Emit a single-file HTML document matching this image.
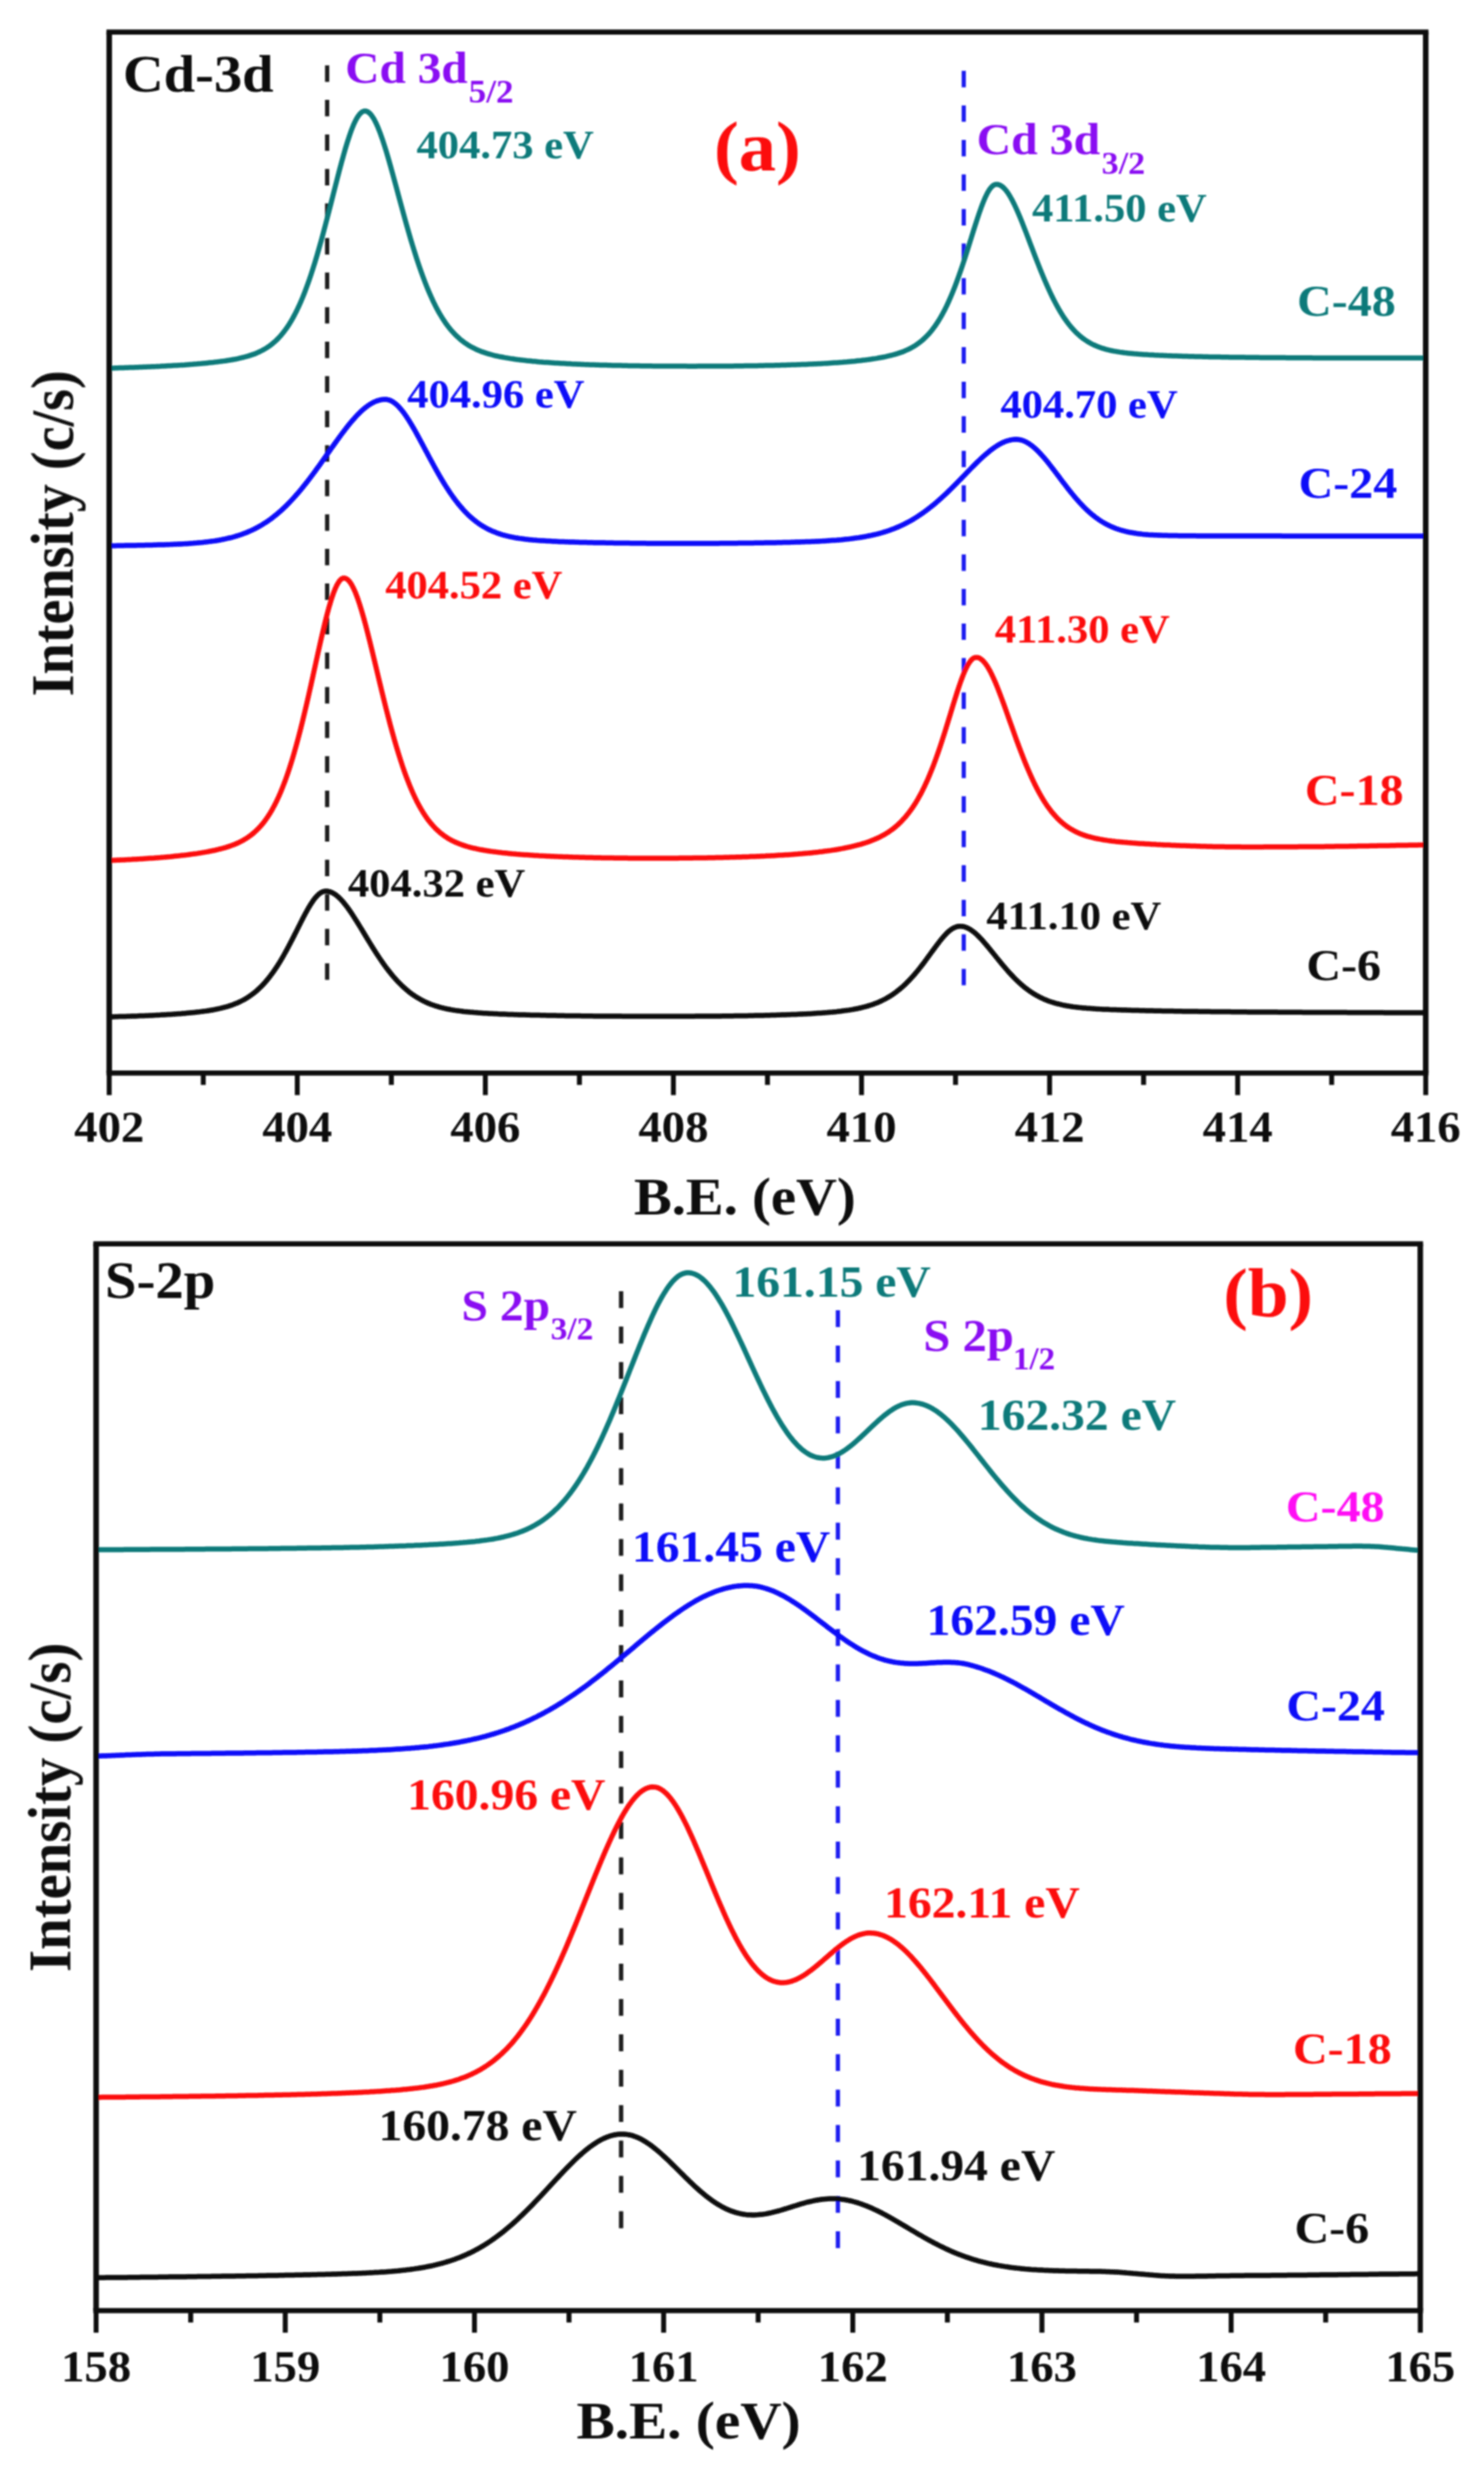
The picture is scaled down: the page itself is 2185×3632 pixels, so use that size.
<!DOCTYPE html>
<html lang="en"><head><meta charset="utf-8"><title>XPS spectra</title>
<style>html,body{margin:0;padding:0;background:#fff}svg{display:block}</style>
</head><body>
<svg width="2185" height="3632" viewBox="0 0 2185 3632" font-family="'Liberation Serif', serif" font-weight="bold">
<defs><filter id="bl" x="-2%" y="-2%" width="104%" height="104%"><feGaussianBlur stdDeviation="0.8"/></filter></defs>
<rect width="2185" height="3632" fill="#fff"/>
<g filter="url(#bl)">
<path d="M481.7,96.2V1444.3" stroke="#1a1a1a" stroke-width="6.2" stroke-dasharray="24.2 26.65" fill="none"/>
<path d="M1419,104.3V1451" stroke="#1c1cf0" stroke-width="6.2" stroke-dasharray="24.2 26.65" fill="none"/>
<path d="M160.8,542.1 L163.8,542.0 L166.8,541.9 L169.8,541.8 L172.8,541.7 L175.8,541.6 L178.8,541.5 L181.8,541.4 L184.8,541.3 L187.8,541.2 L190.8,541.1 L193.8,541.0 L196.8,540.9 L199.8,540.8 L202.8,540.7 L205.8,540.6 L208.8,540.5 L211.8,540.3 L214.8,540.2 L217.8,540.1 L220.8,540.0 L223.8,539.8 L226.8,539.7 L229.8,539.6 L232.8,539.4 L235.8,539.3 L238.8,539.1 L241.8,539.0 L244.8,538.8 L247.8,538.6 L250.8,538.5 L253.8,538.3 L256.8,538.1 L259.8,537.9 L262.8,537.7 L265.8,537.6 L268.8,537.4 L271.8,537.2 L274.8,536.9 L277.8,536.7 L280.8,536.5 L283.8,536.3 L286.8,536.0 L289.8,535.8 L292.8,535.5 L295.8,535.3 L298.8,535.0 L301.8,534.7 L304.8,534.4 L307.8,534.1 L310.8,533.8 L313.8,533.5 L316.8,533.1 L319.8,532.8 L322.8,532.4 L325.8,532.0 L328.8,531.6 L331.8,531.2 L334.8,530.7 L337.8,530.3 L340.8,529.8 L343.8,529.2 L346.8,528.7 L349.8,528.1 L352.8,527.4 L355.8,526.7 L358.8,526.0 L361.8,525.2 L364.8,524.4 L367.8,523.4 L370.8,522.4 L373.8,521.4 L376.8,520.2 L379.8,518.9 L382.8,517.5 L385.8,516.0 L388.8,514.4 L391.8,512.6 L394.8,510.7 L397.8,508.6 L400.8,506.2 L403.8,503.7 L406.8,501.0 L409.8,498.0 L412.8,494.8 L415.8,491.2 L418.8,487.4 L421.8,483.3 L424.8,478.9 L427.8,474.1 L430.8,468.9 L433.8,463.4 L436.8,457.5 L439.8,451.2 L442.8,444.5 L445.8,437.4 L448.8,429.8 L451.8,421.8 L454.8,413.4 L457.8,404.6 L460.8,395.4 L463.8,385.8 L466.8,375.8 L469.8,365.4 L472.8,354.7 L475.8,343.7 L478.8,332.4 L481.8,320.9 L484.8,309.3 L487.8,297.5 L490.8,285.6 L493.8,273.8 L496.8,262.1 L499.8,250.5 L502.8,239.3 L505.8,228.4 L508.8,217.9 L511.8,208.1 L514.8,199.0 L517.8,190.6 L520.8,183.2 L523.8,176.9 L526.8,171.7 L529.8,167.7 L532.8,164.9 L535.8,163.6 L538.8,163.5 L541.8,164.8 L544.8,167.2 L547.8,170.9 L550.8,175.6 L553.8,181.5 L556.8,188.3 L559.8,196.0 L562.8,204.4 L565.8,213.6 L568.8,223.2 L571.8,233.4 L574.8,243.9 L577.8,254.7 L580.8,265.7 L583.8,276.8 L586.8,288.0 L589.8,299.1 L592.8,310.1 L595.8,321.0 L598.8,331.8 L601.8,342.3 L604.8,352.6 L607.8,362.5 L610.8,372.2 L613.8,381.6 L616.8,390.6 L619.8,399.3 L622.8,407.6 L625.8,415.5 L628.8,423.1 L631.8,430.3 L634.8,437.1 L637.8,443.6 L640.8,449.7 L643.8,455.4 L646.8,460.9 L649.8,465.9 L652.8,470.7 L655.8,475.2 L658.8,479.3 L661.8,483.2 L664.8,486.8 L667.8,490.1 L670.8,493.3 L673.8,496.1 L676.8,498.8 L679.8,501.3 L682.8,503.6 L685.8,505.7 L688.8,507.7 L691.8,509.5 L694.8,511.2 L697.8,512.7 L700.8,514.2 L703.8,515.5 L706.8,516.7 L709.8,517.9 L712.8,518.9 L715.8,519.9 L718.8,520.8 L721.8,521.7 L724.8,522.5 L727.8,523.3 L730.8,524.0 L733.8,524.6 L736.8,525.3 L739.8,525.8 L742.8,526.4 L745.8,526.9 L748.8,527.4 L751.8,527.9 L754.8,528.3 L757.8,528.8 L760.8,529.2 L763.8,529.6 L766.8,529.9 L769.8,530.3 L772.8,530.6 L775.8,531.0 L778.8,531.3 L781.8,531.6 L784.8,531.9 L787.8,532.1 L790.8,532.4 L793.8,532.7 L796.8,532.9 L799.8,533.2 L802.8,533.4 L805.8,533.6 L808.8,533.8 L811.8,534.0 L814.8,534.2 L817.8,534.4 L820.8,534.6 L823.8,534.8 L826.8,535.0 L829.8,535.1 L832.8,535.3 L835.8,535.5 L838.8,535.6 L841.8,535.8 L844.8,535.9 L847.8,536.0 L850.8,536.2 L853.8,536.3 L856.8,536.4 L859.8,536.6 L862.8,536.7 L865.8,536.8 L868.8,536.9 L871.8,537.0 L874.8,537.1 L877.8,537.2 L880.8,537.3 L883.8,537.4 L886.8,537.5 L889.8,537.6 L892.8,537.6 L895.8,537.7 L898.8,537.8 L901.8,537.9 L904.8,537.9 L907.8,538.0 L910.8,538.1 L913.8,538.1 L916.8,538.2 L919.8,538.3 L922.8,538.3 L925.8,538.4 L928.8,538.4 L931.8,538.5 L934.8,538.5 L937.8,538.6 L940.8,538.6 L943.8,538.7 L946.8,538.7 L949.8,538.7 L952.8,538.8 L955.8,538.8 L958.8,538.8 L961.8,538.9 L964.8,538.9 L967.8,538.9 L970.8,539.0 L973.8,539.0 L976.8,539.0 L979.8,539.0 L982.8,539.0 L985.8,539.1 L988.8,539.1 L991.8,539.1 L994.8,539.1 L997.8,539.1 L1000.8,539.1 L1003.8,539.1 L1006.8,539.1 L1009.8,539.1 L1012.8,539.2 L1015.8,539.2 L1018.8,539.2 L1021.8,539.2 L1024.8,539.2 L1027.8,539.1 L1030.8,539.1 L1033.8,539.1 L1036.8,539.1 L1039.8,539.1 L1042.8,539.1 L1045.8,539.1 L1048.8,539.1 L1051.8,539.1 L1054.8,539.1 L1057.8,539.0 L1060.8,539.0 L1063.8,539.0 L1066.8,539.0 L1069.8,538.9 L1072.8,538.9 L1075.8,538.9 L1078.8,538.9 L1081.8,538.8 L1084.8,538.8 L1087.8,538.8 L1090.8,538.7 L1093.8,538.7 L1096.8,538.6 L1099.8,538.6 L1102.8,538.6 L1105.8,538.5 L1108.8,538.5 L1111.8,538.4 L1114.8,538.4 L1117.8,538.3 L1120.8,538.3 L1123.8,538.2 L1126.8,538.1 L1129.8,538.1 L1132.8,538.0 L1135.8,537.9 L1138.8,537.9 L1141.8,537.8 L1144.8,537.7 L1147.8,537.7 L1150.8,537.6 L1153.8,537.5 L1156.8,537.4 L1159.8,537.3 L1162.8,537.2 L1165.8,537.1 L1168.8,537.0 L1171.8,536.9 L1174.8,536.8 L1177.8,536.7 L1180.8,536.6 L1183.8,536.5 L1186.8,536.4 L1189.8,536.2 L1192.8,536.1 L1195.8,536.0 L1198.8,535.8 L1201.8,535.7 L1204.8,535.5 L1207.8,535.4 L1210.8,535.2 L1213.8,535.1 L1216.8,534.9 L1219.8,534.7 L1222.8,534.5 L1225.8,534.3 L1228.8,534.1 L1231.8,533.9 L1234.8,533.7 L1237.8,533.5 L1240.8,533.3 L1243.8,533.0 L1246.8,532.8 L1249.8,532.5 L1252.8,532.2 L1255.8,531.9 L1258.8,531.7 L1261.8,531.3 L1264.8,531.0 L1267.8,530.7 L1270.8,530.3 L1273.8,530.0 L1276.8,529.6 L1279.8,529.2 L1282.8,528.8 L1285.8,528.3 L1288.8,527.9 L1291.8,527.4 L1294.8,526.8 L1297.8,526.3 L1300.8,525.7 L1303.8,525.1 L1306.8,524.4 L1309.8,523.7 L1312.8,523.0 L1315.8,522.2 L1318.8,521.3 L1321.8,520.4 L1324.8,519.4 L1327.8,518.4 L1330.8,517.2 L1333.8,515.9 L1336.8,514.6 L1339.8,513.1 L1342.8,511.5 L1345.8,509.8 L1348.8,507.9 L1351.8,505.8 L1354.8,503.5 L1357.8,501.1 L1360.8,498.4 L1363.8,495.5 L1366.8,492.4 L1369.8,489.0 L1372.8,485.3 L1375.8,481.3 L1378.8,477.0 L1381.8,472.4 L1384.8,467.4 L1387.8,462.1 L1390.8,456.4 L1393.8,450.4 L1396.8,443.9 L1399.8,437.1 L1402.8,429.9 L1405.8,422.3 L1408.8,414.4 L1411.8,406.1 L1414.8,397.5 L1417.8,388.6 L1420.8,379.5 L1423.8,370.1 L1426.8,360.6 L1429.8,351.0 L1432.8,341.4 L1435.8,331.9 L1438.8,322.6 L1441.8,313.6 L1444.8,305.2 L1447.8,297.4 L1450.8,290.3 L1453.8,284.2 L1456.8,279.1 L1459.8,275.3 L1462.8,272.7 L1465.8,271.4 L1468.8,271.4 L1471.8,272.3 L1474.8,274.0 L1477.8,276.5 L1480.8,279.8 L1483.8,283.8 L1486.8,288.5 L1489.8,293.8 L1492.8,299.7 L1495.8,306.0 L1498.8,312.7 L1501.8,319.8 L1504.8,327.2 L1507.8,334.8 L1510.8,342.5 L1513.8,350.4 L1516.8,358.3 L1519.8,366.2 L1522.8,374.1 L1525.8,381.8 L1528.8,389.5 L1531.8,397.1 L1534.8,404.4 L1537.8,411.6 L1540.8,418.6 L1543.8,425.3 L1546.8,431.8 L1549.8,438.0 L1552.8,443.9 L1555.8,449.5 L1558.8,454.9 L1561.8,460.0 L1564.8,464.8 L1567.8,469.3 L1570.8,473.5 L1573.8,477.5 L1576.8,481.2 L1579.8,484.6 L1582.8,487.8 L1585.8,490.8 L1588.8,493.5 L1591.8,496.1 L1594.8,498.4 L1597.8,500.5 L1600.8,502.5 L1603.8,504.3 L1606.8,506.0 L1609.8,507.5 L1612.8,508.8 L1615.8,510.1 L1618.8,511.2 L1621.8,512.3 L1624.8,513.2 L1627.8,514.1 L1630.8,514.9 L1633.8,515.6 L1636.8,516.3 L1639.8,516.9 L1642.8,517.4 L1645.8,517.9 L1648.8,518.4 L1651.8,518.8 L1654.8,519.2 L1657.8,519.6 L1660.8,519.9 L1663.8,520.2 L1666.8,520.5 L1669.8,520.8 L1672.8,521.0 L1675.8,521.3 L1678.8,521.5 L1681.8,521.7 L1684.8,521.9 L1687.8,522.1 L1690.8,522.3 L1693.8,522.4 L1696.8,522.6 L1699.8,522.8 L1702.8,522.9 L1705.8,523.1 L1708.8,523.2 L1711.8,523.3 L1714.8,523.4 L1717.8,523.6 L1720.8,523.7 L1723.8,523.8 L1726.8,523.9 L1729.8,524.0 L1732.8,524.1 L1735.8,524.2 L1738.8,524.3 L1741.8,524.4 L1744.8,524.5 L1747.8,524.6 L1750.8,524.7 L1753.8,524.7 L1756.8,524.8 L1759.8,524.9 L1762.8,525.0 L1765.8,525.0 L1768.8,525.1 L1771.8,525.2 L1774.8,525.2 L1777.8,525.3 L1780.8,525.4 L1783.8,525.4 L1786.8,525.5 L1789.8,525.5 L1792.8,525.6 L1795.8,525.6 L1798.8,525.7 L1801.8,525.7 L1804.8,525.8 L1807.8,525.8 L1810.8,525.9 L1813.8,525.9 L1816.8,525.9 L1819.8,526.0 L1822.8,526.0 L1825.8,526.1 L1828.8,526.1 L1831.8,526.1 L1834.8,526.2 L1837.8,526.2 L1840.8,526.2 L1843.8,526.3 L1846.8,526.3 L1849.8,526.3 L1852.8,526.3 L1855.8,526.4 L1858.8,526.4 L1861.8,526.4 L1864.8,526.5 L1867.8,526.5 L1870.8,526.5 L1873.8,526.5 L1876.8,526.5 L1879.8,526.6 L1882.8,526.6 L1885.8,526.6 L1888.8,526.6 L1891.8,526.6 L1894.8,526.7 L1897.8,526.7 L1900.8,526.7 L1903.8,526.7 L1906.8,526.7 L1909.8,526.7 L1912.8,526.8 L1915.8,526.8 L1918.8,526.8 L1921.8,526.8 L1924.8,526.8 L1927.8,526.8 L1930.8,526.8 L1933.8,526.9 L1936.8,526.9 L1939.8,526.9 L1942.8,526.9 L1945.8,526.9 L1948.8,526.9 L1951.8,526.9 L1954.8,526.9 L1957.8,526.9 L1960.8,526.9 L1963.8,527.0 L1966.8,527.0 L1969.8,527.0 L1972.8,527.0 L1975.8,527.0 L1978.8,527.0 L1981.8,527.0 L1984.8,527.0 L1987.8,527.0 L1990.8,527.0 L1993.8,527.0 L1996.8,527.0 L1999.8,527.0 L2002.8,527.0 L2005.8,527.0 L2008.8,527.0 L2011.8,527.0 L2014.8,527.0 L2017.8,527.0 L2020.8,527.0 L2023.8,527.0 L2026.8,527.1 L2029.8,527.1 L2032.8,527.1 L2035.8,527.1 L2038.8,527.1 L2041.8,527.1 L2044.8,527.1 L2047.8,527.1 L2050.8,527.1 L2053.8,527.1 L2056.8,527.1 L2059.8,527.1 L2062.8,527.1 L2065.8,527.1 L2068.8,527.1 L2071.8,527.1 L2074.8,527.1 L2077.8,527.1 L2080.8,527.1 L2083.8,527.1 L2086.8,527.1 L2089.8,527.1 L2092.8,527.1 L2095.8,527.1 L2098.8,527.1" fill="none" stroke="#0b7a7a" stroke-width="7.5" stroke-linejoin="round"/>
<path d="M160.8,803.5 L163.8,803.4 L166.8,803.4 L169.8,803.4 L172.8,803.3 L175.8,803.3 L178.8,803.2 L181.8,803.2 L184.8,803.1 L187.8,803.1 L190.8,803.0 L193.8,803.0 L196.8,802.9 L199.8,802.9 L202.8,802.8 L205.8,802.8 L208.8,802.7 L211.8,802.7 L214.8,802.6 L217.8,802.5 L220.8,802.5 L223.8,802.4 L226.8,802.3 L229.8,802.2 L232.8,802.1 L235.8,802.1 L238.8,802.0 L241.8,801.9 L244.8,801.8 L247.8,801.7 L250.8,801.6 L253.8,801.4 L256.8,801.3 L259.8,801.2 L262.8,801.0 L265.8,800.9 L268.8,800.7 L271.8,800.6 L274.8,800.4 L277.8,800.2 L280.8,800.0 L283.8,799.8 L286.8,799.5 L289.8,799.3 L292.8,799.0 L295.8,798.8 L298.8,798.5 L301.8,798.1 L304.8,797.8 L307.8,797.4 L310.8,797.0 L313.8,796.6 L316.8,796.2 L319.8,795.7 L322.8,795.2 L325.8,794.6 L328.8,794.0 L331.8,793.4 L334.8,792.7 L337.8,792.0 L340.8,791.3 L343.8,790.5 L346.8,789.6 L349.8,788.7 L352.8,787.7 L355.8,786.7 L358.8,785.6 L361.8,784.5 L364.8,783.2 L367.8,781.9 L370.8,780.6 L373.8,779.2 L376.8,777.6 L379.8,776.0 L382.8,774.4 L385.8,772.6 L388.8,770.7 L391.8,768.8 L394.8,766.8 L397.8,764.7 L400.8,762.4 L403.8,760.1 L406.8,757.7 L409.8,755.2 L412.8,752.6 L415.8,749.9 L418.8,747.1 L421.8,744.2 L424.8,741.1 L427.8,738.0 L430.8,734.8 L433.8,731.5 L436.8,728.1 L439.8,724.7 L442.8,721.1 L445.8,717.4 L448.8,713.7 L451.8,709.9 L454.8,706.0 L457.8,702.0 L460.8,698.0 L463.8,694.0 L466.8,689.8 L469.8,685.7 L472.8,681.5 L475.8,677.2 L478.8,673.0 L481.8,668.7 L484.8,664.5 L487.8,660.2 L490.8,656.0 L493.8,651.8 L496.8,647.6 L499.8,643.5 L502.8,639.4 L505.8,635.4 L508.8,631.5 L511.8,627.6 L514.8,623.9 L517.8,620.3 L520.8,616.9 L523.8,613.5 L526.8,610.4 L529.8,607.4 L532.8,604.5 L535.8,601.9 L538.8,599.5 L541.8,597.3 L544.8,595.2 L547.8,593.5 L550.8,591.9 L553.8,590.6 L556.8,589.6 L559.8,588.8 L562.8,588.3 L565.8,588.0 L568.8,588.0 L571.8,588.6 L574.8,589.6 L577.8,591.1 L580.8,593.2 L583.8,595.6 L586.8,598.5 L589.8,601.9 L592.8,605.6 L595.8,609.6 L598.8,613.9 L601.8,618.6 L604.8,623.4 L607.8,628.5 L610.8,633.7 L613.8,639.1 L616.8,644.6 L619.8,650.2 L622.8,655.8 L625.8,661.4 L628.8,667.1 L631.8,672.7 L634.8,678.3 L637.8,683.8 L640.8,689.3 L643.8,694.6 L646.8,699.9 L649.8,705.0 L652.8,710.0 L655.8,714.9 L658.8,719.6 L661.8,724.1 L664.8,728.5 L667.8,732.7 L670.8,736.8 L673.8,740.6 L676.8,744.3 L679.8,747.8 L682.8,751.2 L685.8,754.4 L688.8,757.4 L691.8,760.2 L694.8,762.9 L697.8,765.4 L700.8,767.8 L703.8,770.0 L706.8,772.1 L709.8,774.0 L712.8,775.8 L715.8,777.5 L718.8,779.1 L721.8,780.5 L724.8,781.9 L727.8,783.1 L730.8,784.3 L733.8,785.4 L736.8,786.4 L739.8,787.3 L742.8,788.1 L745.8,788.9 L748.8,789.6 L751.8,790.3 L754.8,790.9 L757.8,791.5 L760.8,792.0 L763.8,792.5 L766.8,792.9 L769.8,793.3 L772.8,793.7 L775.8,794.1 L778.8,794.4 L781.8,794.7 L784.8,795.0 L787.8,795.2 L790.8,795.5 L793.8,795.7 L796.8,795.9 L799.8,796.1 L802.8,796.3 L805.8,796.5 L808.8,796.6 L811.8,796.8 L814.8,797.0 L817.8,797.1 L820.8,797.2 L823.8,797.4 L826.8,797.5 L829.8,797.6 L832.8,797.7 L835.8,797.8 L838.8,797.9 L841.8,798.0 L844.8,798.1 L847.8,798.2 L850.8,798.3 L853.8,798.4 L856.8,798.4 L859.8,798.5 L862.8,798.6 L865.8,798.7 L868.8,798.7 L871.8,798.8 L874.8,798.9 L877.8,798.9 L880.8,799.0 L883.8,799.0 L886.8,799.1 L889.8,799.1 L892.8,799.2 L895.8,799.2 L898.8,799.3 L901.8,799.3 L904.8,799.4 L907.8,799.4 L910.8,799.5 L913.8,799.5 L916.8,799.5 L919.8,799.6 L922.8,799.6 L925.8,799.6 L928.8,799.7 L931.8,799.7 L934.8,799.7 L937.8,799.7 L940.8,799.8 L943.8,799.8 L946.8,799.8 L949.8,799.8 L952.8,799.9 L955.8,799.9 L958.8,799.9 L961.8,799.9 L964.8,799.9 L967.8,799.9 L970.8,799.9 L973.8,800.0 L976.8,800.0 L979.8,800.0 L982.8,800.0 L985.8,800.0 L988.8,800.0 L991.8,800.0 L994.8,800.0 L997.8,800.0 L1000.8,800.0 L1003.8,800.0 L1006.8,800.0 L1009.8,800.0 L1012.8,800.0 L1015.8,800.0 L1018.8,800.0 L1021.8,800.0 L1024.8,800.0 L1027.8,800.0 L1030.8,800.0 L1033.8,800.0 L1036.8,800.0 L1039.8,800.0 L1042.8,799.9 L1045.8,799.9 L1048.8,799.9 L1051.8,799.9 L1054.8,799.9 L1057.8,799.9 L1060.8,799.8 L1063.8,799.8 L1066.8,799.8 L1069.8,799.8 L1072.8,799.8 L1075.8,799.7 L1078.8,799.7 L1081.8,799.7 L1084.8,799.7 L1087.8,799.6 L1090.8,799.6 L1093.8,799.6 L1096.8,799.5 L1099.8,799.5 L1102.8,799.5 L1105.8,799.4 L1108.8,799.4 L1111.8,799.3 L1114.8,799.3 L1117.8,799.3 L1120.8,799.2 L1123.8,799.2 L1126.8,799.1 L1129.8,799.1 L1132.8,799.0 L1135.8,799.0 L1138.8,798.9 L1141.8,798.9 L1144.8,798.8 L1147.8,798.7 L1150.8,798.7 L1153.8,798.6 L1156.8,798.5 L1159.8,798.5 L1162.8,798.4 L1165.8,798.3 L1168.8,798.2 L1171.8,798.1 L1174.8,798.0 L1177.8,797.9 L1180.8,797.8 L1183.8,797.7 L1186.8,797.6 L1189.8,797.5 L1192.8,797.4 L1195.8,797.3 L1198.8,797.2 L1201.8,797.0 L1204.8,796.9 L1207.8,796.7 L1210.8,796.6 L1213.8,796.4 L1216.8,796.2 L1219.8,796.0 L1222.8,795.8 L1225.8,795.6 L1228.8,795.4 L1231.8,795.2 L1234.8,794.9 L1237.8,794.7 L1240.8,794.4 L1243.8,794.1 L1246.8,793.8 L1249.8,793.5 L1252.8,793.1 L1255.8,792.7 L1258.8,792.3 L1261.8,791.9 L1264.8,791.5 L1267.8,791.0 L1270.8,790.5 L1273.8,790.0 L1276.8,789.4 L1279.8,788.8 L1282.8,788.2 L1285.8,787.5 L1288.8,786.8 L1291.8,786.1 L1294.8,785.3 L1297.8,784.5 L1300.8,783.6 L1303.8,782.7 L1306.8,781.7 L1309.8,780.7 L1312.8,779.6 L1315.8,778.5 L1318.8,777.3 L1321.8,776.0 L1324.8,774.7 L1327.8,773.3 L1330.8,771.9 L1333.8,770.4 L1336.8,768.8 L1339.8,767.2 L1342.8,765.5 L1345.8,763.7 L1348.8,761.8 L1351.8,759.9 L1354.8,757.9 L1357.8,755.9 L1360.8,753.8 L1363.8,751.6 L1366.8,749.3 L1369.8,746.9 L1372.8,744.5 L1375.8,742.1 L1378.8,739.5 L1381.8,736.9 L1384.8,734.2 L1387.8,731.5 L1390.8,728.7 L1393.8,725.9 L1396.8,723.0 L1399.8,720.1 L1402.8,717.1 L1405.8,714.1 L1408.8,711.1 L1411.8,708.0 L1414.8,705.0 L1417.8,701.9 L1420.8,698.8 L1423.8,695.7 L1426.8,692.6 L1429.8,689.5 L1432.8,686.5 L1435.8,683.5 L1438.8,680.5 L1441.8,677.6 L1444.8,674.8 L1447.8,672.0 L1450.8,669.4 L1453.8,666.8 L1456.8,664.3 L1459.8,662.0 L1462.8,659.8 L1465.8,657.7 L1468.8,655.8 L1471.8,654.0 L1474.8,652.4 L1477.8,651.0 L1480.8,649.8 L1483.8,648.8 L1486.8,648.0 L1489.8,647.4 L1492.8,647.0 L1495.8,646.8 L1498.8,647.0 L1501.8,647.5 L1504.8,648.2 L1507.8,649.3 L1510.8,650.7 L1513.8,652.4 L1516.8,654.4 L1519.8,656.6 L1522.8,659.1 L1525.8,661.8 L1528.8,664.7 L1531.8,667.9 L1534.8,671.2 L1537.8,674.6 L1540.8,678.2 L1543.8,681.9 L1546.8,685.7 L1549.8,689.6 L1552.8,693.5 L1555.8,697.5 L1558.8,701.4 L1561.8,705.4 L1564.8,709.4 L1567.8,713.3 L1570.8,717.2 L1573.8,721.1 L1576.8,724.8 L1579.8,728.5 L1582.8,732.1 L1585.8,735.6 L1588.8,738.9 L1591.8,742.2 L1594.8,745.3 L1597.8,748.3 L1600.8,751.2 L1603.8,754.0 L1606.8,756.6 L1609.8,759.0 L1612.8,761.4 L1615.8,763.6 L1618.8,765.7 L1621.8,767.6 L1624.8,769.4 L1627.8,771.1 L1630.8,772.7 L1633.8,774.2 L1636.8,775.6 L1639.8,776.8 L1642.8,778.0 L1645.8,779.0 L1648.8,780.0 L1651.8,780.9 L1654.8,781.7 L1657.8,782.5 L1660.8,783.2 L1663.8,783.8 L1666.8,784.3 L1669.8,784.8 L1672.8,785.3 L1675.8,785.7 L1678.8,786.0 L1681.8,786.4 L1684.8,786.7 L1687.8,786.9 L1690.8,787.2 L1693.8,787.4 L1696.8,787.5 L1699.8,787.7 L1702.8,787.8 L1705.8,788.0 L1708.8,788.1 L1711.8,788.2 L1714.8,788.3 L1717.8,788.3 L1720.8,788.4 L1723.8,788.5 L1726.8,788.5 L1729.8,788.6 L1732.8,788.6 L1735.8,788.7 L1738.8,788.7 L1741.8,788.7 L1744.8,788.7 L1747.8,788.8 L1750.8,788.8 L1753.8,788.8 L1756.8,788.8 L1759.8,788.8 L1762.8,788.9 L1765.8,788.9 L1768.8,788.9 L1771.8,788.9 L1774.8,788.9 L1777.8,788.9 L1780.8,788.9 L1783.8,788.9 L1786.8,788.9 L1789.8,788.9 L1792.8,789.0 L1795.8,789.0 L1798.8,789.0 L1801.8,789.0 L1804.8,789.0 L1807.8,789.0 L1810.8,789.0 L1813.8,789.0 L1816.8,789.0 L1819.8,789.0 L1822.8,789.0 L1825.8,789.0 L1828.8,789.0 L1831.8,789.0 L1834.8,789.1 L1837.8,789.1 L1840.8,789.1 L1843.8,789.1 L1846.8,789.1 L1849.8,789.1 L1852.8,789.1 L1855.8,789.1 L1858.8,789.1 L1861.8,789.1 L1864.8,789.1 L1867.8,789.1 L1870.8,789.1 L1873.8,789.1 L1876.8,789.1 L1879.8,789.1 L1882.8,789.1 L1885.8,789.1 L1888.8,789.2 L1891.8,789.2 L1894.8,789.2 L1897.8,789.2 L1900.8,789.2 L1903.8,789.2 L1906.8,789.2 L1909.8,789.2 L1912.8,789.2 L1915.8,789.2 L1918.8,789.2 L1921.8,789.2 L1924.8,789.2 L1927.8,789.2 L1930.8,789.2 L1933.8,789.2 L1936.8,789.2 L1939.8,789.2 L1942.8,789.2 L1945.8,789.2 L1948.8,789.2 L1951.8,789.2 L1954.8,789.2 L1957.8,789.2 L1960.8,789.2 L1963.8,789.2 L1966.8,789.3 L1969.8,789.3 L1972.8,789.3 L1975.8,789.3 L1978.8,789.3 L1981.8,789.3 L1984.8,789.3 L1987.8,789.3 L1990.8,789.3 L1993.8,789.3 L1996.8,789.3 L1999.8,789.3 L2002.8,789.3 L2005.8,789.3 L2008.8,789.3 L2011.8,789.3 L2014.8,789.3 L2017.8,789.3 L2020.8,789.3 L2023.8,789.3 L2026.8,789.3 L2029.8,789.3 L2032.8,789.3 L2035.8,789.3 L2038.8,789.3 L2041.8,789.3 L2044.8,789.3 L2047.8,789.3 L2050.8,789.3 L2053.8,789.3 L2056.8,789.3 L2059.8,789.3 L2062.8,789.3 L2065.8,789.3 L2068.8,789.3 L2071.8,789.3 L2074.8,789.3 L2077.8,789.3 L2080.8,789.3 L2083.8,789.3 L2086.8,789.3 L2089.8,789.3 L2092.8,789.3 L2095.8,789.3 L2098.8,789.3" fill="none" stroke="#0808f8" stroke-width="7.5" stroke-linejoin="round"/>
<path d="M160.8,1266.8 L163.8,1266.7 L166.8,1266.6 L169.8,1266.4 L172.8,1266.3 L175.8,1266.2 L178.8,1266.0 L181.8,1265.9 L184.8,1265.7 L187.8,1265.6 L190.8,1265.4 L193.8,1265.3 L196.8,1265.1 L199.8,1264.9 L202.8,1264.7 L205.8,1264.6 L208.8,1264.4 L211.8,1264.2 L214.8,1264.0 L217.8,1263.8 L220.8,1263.6 L223.8,1263.4 L226.8,1263.2 L229.8,1262.9 L232.8,1262.7 L235.8,1262.5 L238.8,1262.2 L241.8,1262.0 L244.8,1261.7 L247.8,1261.4 L250.8,1261.2 L253.8,1260.9 L256.8,1260.6 L259.8,1260.3 L262.8,1260.0 L265.8,1259.6 L268.8,1259.3 L271.8,1259.0 L274.8,1258.6 L277.8,1258.2 L280.8,1257.8 L283.8,1257.4 L286.8,1257.0 L289.8,1256.6 L292.8,1256.1 L295.8,1255.6 L298.8,1255.1 L301.8,1254.6 L304.8,1254.1 L307.8,1253.5 L310.8,1252.9 L313.8,1252.3 L316.8,1251.7 L319.8,1251.0 L322.8,1250.2 L325.8,1249.5 L328.8,1248.7 L331.8,1247.8 L334.8,1246.9 L337.8,1245.9 L340.8,1244.8 L343.8,1243.7 L346.8,1242.5 L349.8,1241.2 L352.8,1239.8 L355.8,1238.2 L358.8,1236.6 L361.8,1234.8 L364.8,1232.9 L367.8,1230.8 L370.8,1228.5 L373.8,1226.0 L376.8,1223.3 L379.8,1220.4 L382.8,1217.2 L385.8,1213.8 L388.8,1210.1 L391.8,1206.0 L394.8,1201.6 L397.8,1196.9 L400.8,1191.8 L403.8,1186.3 L406.8,1180.4 L409.8,1174.0 L412.8,1167.2 L415.8,1159.9 L418.8,1152.2 L421.8,1143.9 L424.8,1135.2 L427.8,1126.0 L430.8,1116.3 L433.8,1106.0 L436.8,1095.3 L439.8,1084.1 L442.8,1072.5 L445.8,1060.4 L448.8,1047.9 L451.8,1035.1 L454.8,1022.0 L457.8,1008.6 L460.8,995.1 L463.8,981.5 L466.8,967.8 L469.8,954.3 L472.8,940.9 L475.8,928.0 L478.8,915.5 L481.8,903.7 L484.8,892.6 L487.8,882.6 L490.8,873.7 L493.8,866.1 L496.8,859.9 L499.8,855.2 L502.8,852.3 L505.8,851.0 L508.8,851.4 L511.8,853.2 L514.8,856.4 L517.8,860.9 L520.8,866.7 L523.8,873.6 L526.8,881.6 L529.8,890.6 L532.8,900.4 L535.8,910.9 L538.8,922.0 L541.8,933.7 L544.8,945.6 L547.8,957.9 L550.8,970.4 L553.8,982.9 L556.8,995.5 L559.8,1008.0 L562.8,1020.4 L565.8,1032.6 L568.8,1044.6 L571.8,1056.3 L574.8,1067.7 L577.8,1078.8 L580.8,1089.5 L583.8,1099.8 L586.8,1109.7 L589.8,1119.2 L592.8,1128.3 L595.8,1136.9 L598.8,1145.2 L601.8,1152.9 L604.8,1160.3 L607.8,1167.2 L610.8,1173.7 L613.8,1179.9 L616.8,1185.6 L619.8,1190.9 L622.8,1195.9 L625.8,1200.6 L628.8,1204.9 L631.8,1208.9 L634.8,1212.6 L637.8,1216.0 L640.8,1219.2 L643.8,1222.1 L646.8,1224.8 L649.8,1227.3 L652.8,1229.6 L655.8,1231.7 L658.8,1233.7 L661.8,1235.5 L664.8,1237.1 L667.8,1238.6 L670.8,1240.0 L673.8,1241.3 L676.8,1242.5 L679.8,1243.6 L682.8,1244.6 L685.8,1245.6 L688.8,1246.5 L691.8,1247.3 L694.8,1248.1 L697.8,1248.8 L700.8,1249.4 L703.8,1250.1 L706.8,1250.7 L709.8,1251.2 L712.8,1251.8 L715.8,1252.3 L718.8,1252.7 L721.8,1253.2 L724.8,1253.6 L727.8,1254.0 L730.8,1254.4 L733.8,1254.8 L736.8,1255.1 L739.8,1255.5 L742.8,1255.8 L745.8,1256.1 L748.8,1256.4 L751.8,1256.7 L754.8,1257.0 L757.8,1257.2 L760.8,1257.5 L763.8,1257.7 L766.8,1258.0 L769.8,1258.2 L772.8,1258.4 L775.8,1258.6 L778.8,1258.8 L781.8,1259.0 L784.8,1259.2 L787.8,1259.4 L790.8,1259.6 L793.8,1259.8 L796.8,1259.9 L799.8,1260.1 L802.8,1260.2 L805.8,1260.4 L808.8,1260.5 L811.8,1260.7 L814.8,1260.8 L817.8,1260.9 L820.8,1261.1 L823.8,1261.2 L826.8,1261.3 L829.8,1261.4 L832.8,1261.5 L835.8,1261.6 L838.8,1261.7 L841.8,1261.8 L844.8,1261.9 L847.8,1262.0 L850.8,1262.1 L853.8,1262.2 L856.8,1262.3 L859.8,1262.3 L862.8,1262.4 L865.8,1262.5 L868.8,1262.5 L871.8,1262.6 L874.8,1262.7 L877.8,1262.7 L880.8,1262.8 L883.8,1262.8 L886.8,1262.9 L889.8,1263.0 L892.8,1263.0 L895.8,1263.0 L898.8,1263.1 L901.8,1263.1 L904.8,1263.2 L907.8,1263.2 L910.8,1263.2 L913.8,1263.3 L916.8,1263.3 L919.8,1263.3 L922.8,1263.3 L925.8,1263.4 L928.8,1263.4 L931.8,1263.4 L934.8,1263.4 L937.8,1263.4 L940.8,1263.5 L943.8,1263.5 L946.8,1263.5 L949.8,1263.5 L952.8,1263.5 L955.8,1263.5 L958.8,1263.5 L961.8,1263.5 L964.8,1263.5 L967.8,1263.5 L970.8,1263.5 L973.8,1263.5 L976.8,1263.5 L979.8,1263.5 L982.8,1263.5 L985.8,1263.4 L988.8,1263.4 L991.8,1263.4 L994.8,1263.4 L997.8,1263.4 L1000.8,1263.3 L1003.8,1263.3 L1006.8,1263.3 L1009.8,1263.3 L1012.8,1263.2 L1015.8,1263.2 L1018.8,1263.2 L1021.8,1263.1 L1024.8,1263.1 L1027.8,1263.1 L1030.8,1263.0 L1033.8,1263.0 L1036.8,1262.9 L1039.8,1262.9 L1042.8,1262.8 L1045.8,1262.8 L1048.8,1262.7 L1051.8,1262.7 L1054.8,1262.6 L1057.8,1262.5 L1060.8,1262.5 L1063.8,1262.4 L1066.8,1262.3 L1069.8,1262.3 L1072.8,1262.2 L1075.8,1262.1 L1078.8,1262.0 L1081.8,1261.9 L1084.8,1261.8 L1087.8,1261.8 L1090.8,1261.7 L1093.8,1261.6 L1096.8,1261.5 L1099.8,1261.4 L1102.8,1261.3 L1105.8,1261.1 L1108.8,1261.0 L1111.8,1260.9 L1114.8,1260.8 L1117.8,1260.7 L1120.8,1260.5 L1123.8,1260.4 L1126.8,1260.3 L1129.8,1260.1 L1132.8,1260.0 L1135.8,1259.8 L1138.8,1259.7 L1141.8,1259.5 L1144.8,1259.3 L1147.8,1259.1 L1150.8,1259.0 L1153.8,1258.8 L1156.8,1258.6 L1159.8,1258.4 L1162.8,1258.2 L1165.8,1258.0 L1168.8,1257.7 L1171.8,1257.5 L1174.8,1257.3 L1177.8,1257.0 L1180.8,1256.8 L1183.8,1256.5 L1186.8,1256.2 L1189.8,1256.0 L1192.8,1255.7 L1195.8,1255.4 L1198.8,1255.1 L1201.8,1254.7 L1204.8,1254.4 L1207.8,1254.0 L1210.8,1253.7 L1213.8,1253.3 L1216.8,1252.9 L1219.8,1252.5 L1222.8,1252.1 L1225.8,1251.6 L1228.8,1251.2 L1231.8,1250.7 L1234.8,1250.2 L1237.8,1249.6 L1240.8,1249.1 L1243.8,1248.5 L1246.8,1247.9 L1249.8,1247.3 L1252.8,1246.6 L1255.8,1245.9 L1258.8,1245.2 L1261.8,1244.4 L1264.8,1243.6 L1267.8,1242.8 L1270.8,1241.9 L1273.8,1241.0 L1276.8,1240.0 L1279.8,1238.9 L1282.8,1237.8 L1285.8,1236.6 L1288.8,1235.3 L1291.8,1234.0 L1294.8,1232.6 L1297.8,1231.0 L1300.8,1229.4 L1303.8,1227.7 L1306.8,1225.8 L1309.8,1223.8 L1312.8,1221.7 L1315.8,1219.4 L1318.8,1217.0 L1321.8,1214.4 L1324.8,1211.6 L1327.8,1208.6 L1330.8,1205.3 L1333.8,1201.9 L1336.8,1198.2 L1339.8,1194.3 L1342.8,1190.1 L1345.8,1185.6 L1348.8,1180.9 L1351.8,1175.8 L1354.8,1170.4 L1357.8,1164.7 L1360.8,1158.6 L1363.8,1152.2 L1366.8,1145.4 L1369.8,1138.3 L1372.8,1130.8 L1375.8,1123.0 L1378.8,1114.8 L1381.8,1106.2 L1384.8,1097.4 L1387.8,1088.2 L1390.8,1078.8 L1393.8,1069.2 L1396.8,1059.4 L1399.8,1049.6 L1402.8,1039.7 L1405.8,1030.0 L1408.8,1020.5 L1411.8,1011.3 L1414.8,1002.6 L1417.8,994.6 L1420.8,987.4 L1423.8,981.1 L1426.8,975.9 L1429.8,971.9 L1432.8,969.2 L1435.8,967.9 L1438.8,967.9 L1441.8,968.7 L1444.8,970.6 L1447.8,973.3 L1450.8,976.9 L1453.8,981.2 L1456.8,986.3 L1459.8,992.1 L1462.8,998.5 L1465.8,1005.3 L1468.8,1012.6 L1471.8,1020.3 L1474.8,1028.3 L1477.8,1036.4 L1480.8,1044.8 L1483.8,1053.2 L1486.8,1061.7 L1489.8,1070.1 L1492.8,1078.5 L1495.8,1086.9 L1498.8,1095.1 L1501.8,1103.1 L1504.8,1110.9 L1507.8,1118.6 L1510.8,1126.0 L1513.8,1133.1 L1516.8,1140.0 L1519.8,1146.6 L1522.8,1153.0 L1525.8,1159.0 L1528.8,1164.7 L1531.8,1170.2 L1534.8,1175.3 L1537.8,1180.2 L1540.8,1184.8 L1543.8,1189.1 L1546.8,1193.1 L1549.8,1196.8 L1552.8,1200.3 L1555.8,1203.6 L1558.8,1206.6 L1561.8,1209.4 L1564.8,1212.0 L1567.8,1214.4 L1570.8,1216.7 L1573.8,1218.7 L1576.8,1220.6 L1579.8,1222.3 L1582.8,1223.9 L1585.8,1225.4 L1588.8,1226.7 L1591.8,1227.9 L1594.8,1229.1 L1597.8,1230.1 L1600.8,1231.1 L1603.8,1231.9 L1606.8,1232.7 L1609.8,1233.5 L1612.8,1234.2 L1615.8,1234.8 L1618.8,1235.4 L1621.8,1235.9 L1624.8,1236.5 L1627.8,1236.9 L1630.8,1237.4 L1633.8,1237.8 L1636.8,1238.2 L1639.8,1238.5 L1642.8,1238.9 L1645.8,1239.2 L1648.8,1239.5 L1651.8,1239.8 L1654.8,1240.1 L1657.8,1240.3 L1660.8,1240.6 L1663.8,1240.8 L1666.8,1241.1 L1669.8,1241.3 L1672.8,1241.5 L1675.8,1241.7 L1678.8,1241.9 L1681.8,1242.1 L1684.8,1242.3 L1687.8,1242.5 L1690.8,1242.6 L1693.8,1242.8 L1696.8,1243.0 L1699.8,1243.1 L1702.8,1243.3 L1705.8,1243.4 L1708.8,1243.6 L1711.8,1243.7 L1714.8,1243.9 L1717.8,1244.0 L1720.8,1244.1 L1723.8,1244.3 L1726.8,1244.4 L1729.8,1244.5 L1732.8,1244.7 L1735.8,1244.8 L1738.8,1244.9 L1741.8,1245.0 L1744.8,1245.1 L1747.8,1245.2 L1750.8,1245.3 L1753.8,1245.4 L1756.8,1245.5 L1759.8,1245.6 L1762.8,1245.7 L1765.8,1245.8 L1768.8,1245.9 L1771.8,1246.0 L1774.8,1246.1 L1777.8,1246.2 L1780.8,1246.2 L1783.8,1246.3 L1786.8,1246.4 L1789.8,1246.4 L1792.8,1246.5 L1795.8,1246.5 L1798.8,1246.6 L1801.8,1246.6 L1804.8,1246.7 L1807.8,1246.7 L1810.8,1246.7 L1813.8,1246.8 L1816.8,1246.8 L1819.8,1246.8 L1822.8,1246.8 L1825.8,1246.8 L1828.8,1246.9 L1831.8,1246.9 L1834.8,1246.9 L1837.8,1246.9 L1840.8,1246.9 L1843.8,1246.9 L1846.8,1246.9 L1849.8,1246.9 L1852.8,1246.9 L1855.8,1246.9 L1858.8,1246.9 L1861.8,1246.8 L1864.8,1246.8 L1867.8,1246.8 L1870.8,1246.8 L1873.8,1246.8 L1876.8,1246.8 L1879.8,1246.8 L1882.8,1246.8 L1885.8,1246.8 L1888.8,1246.8 L1891.8,1246.7 L1894.8,1246.7 L1897.8,1246.7 L1900.8,1246.7 L1903.8,1246.7 L1906.8,1246.7 L1909.8,1246.7 L1912.8,1246.6 L1915.8,1246.6 L1918.8,1246.6 L1921.8,1246.6 L1924.8,1246.6 L1927.8,1246.5 L1930.8,1246.5 L1933.8,1246.5 L1936.8,1246.5 L1939.8,1246.4 L1942.8,1246.4 L1945.8,1246.4 L1948.8,1246.4 L1951.8,1246.3 L1954.8,1246.3 L1957.8,1246.2 L1960.8,1246.2 L1963.8,1246.2 L1966.8,1246.1 L1969.8,1246.1 L1972.8,1246.0 L1975.8,1246.0 L1978.8,1246.0 L1981.8,1245.9 L1984.8,1245.9 L1987.8,1245.8 L1990.8,1245.8 L1993.8,1245.7 L1996.8,1245.7 L1999.8,1245.6 L2002.8,1245.6 L2005.8,1245.5 L2008.8,1245.5 L2011.8,1245.4 L2014.8,1245.4 L2017.8,1245.3 L2020.8,1245.3 L2023.8,1245.2 L2026.8,1245.2 L2029.8,1245.1 L2032.8,1245.1 L2035.8,1245.0 L2038.8,1245.0 L2041.8,1244.9 L2044.8,1244.9 L2047.8,1244.8 L2050.8,1244.8 L2053.8,1244.7 L2056.8,1244.6 L2059.8,1244.6 L2062.8,1244.5 L2065.8,1244.5 L2068.8,1244.4 L2071.8,1244.4 L2074.8,1244.3 L2077.8,1244.3 L2080.8,1244.2 L2083.8,1244.2 L2086.8,1244.2 L2089.8,1244.1 L2092.8,1244.1 L2095.8,1244.1 L2098.8,1244.0" fill="none" stroke="#fc0a0a" stroke-width="7.5" stroke-linejoin="round"/>
<path d="M160.8,1497.0 L163.8,1496.9 L166.8,1496.9 L169.8,1496.8 L172.8,1496.7 L175.8,1496.6 L178.8,1496.5 L181.8,1496.5 L184.8,1496.4 L187.8,1496.3 L190.8,1496.2 L193.8,1496.1 L196.8,1496.0 L199.8,1495.9 L202.8,1495.8 L205.8,1495.6 L208.8,1495.5 L211.8,1495.4 L214.8,1495.3 L217.8,1495.2 L220.8,1495.0 L223.8,1494.9 L226.8,1494.7 L229.8,1494.6 L232.8,1494.4 L235.8,1494.3 L238.8,1494.1 L241.8,1494.0 L244.8,1493.8 L247.8,1493.6 L250.8,1493.4 L253.8,1493.2 L256.8,1493.0 L259.8,1492.8 L262.8,1492.6 L265.8,1492.4 L268.8,1492.1 L271.8,1491.9 L274.8,1491.6 L277.8,1491.3 L280.8,1491.0 L283.8,1490.7 L286.8,1490.4 L289.8,1490.1 L292.8,1489.8 L295.8,1489.4 L298.8,1489.0 L301.8,1488.6 L304.8,1488.2 L307.8,1487.7 L310.8,1487.2 L313.8,1486.7 L316.8,1486.1 L319.8,1485.5 L322.8,1484.9 L325.8,1484.2 L328.8,1483.4 L331.8,1482.6 L334.8,1481.8 L337.8,1480.9 L340.8,1479.9 L343.8,1478.8 L346.8,1477.6 L349.8,1476.4 L352.8,1475.0 L355.8,1473.5 L358.8,1472.0 L361.8,1470.3 L364.8,1468.4 L367.8,1466.4 L370.8,1464.3 L373.8,1462.0 L376.8,1459.6 L379.8,1456.9 L382.8,1454.1 L385.8,1451.1 L388.8,1447.9 L391.8,1444.5 L394.8,1440.9 L397.8,1437.1 L400.8,1433.1 L403.8,1428.8 L406.8,1424.4 L409.8,1419.7 L412.8,1414.9 L415.8,1409.8 L418.8,1404.5 L421.8,1399.1 L424.8,1393.5 L427.8,1387.8 L430.8,1382.0 L433.8,1376.0 L436.8,1370.1 L439.8,1364.1 L442.8,1358.1 L445.8,1352.2 L448.8,1346.5 L451.8,1341.0 L454.8,1335.7 L457.8,1330.8 L460.8,1326.3 L463.8,1322.3 L466.8,1318.9 L469.8,1316.1 L472.8,1314.0 L475.8,1312.6 L478.8,1312.0 L481.8,1312.0 L484.8,1312.6 L487.8,1313.6 L490.8,1315.1 L493.8,1317.0 L496.8,1319.4 L499.8,1322.1 L502.8,1325.2 L505.8,1328.6 L508.8,1332.3 L511.8,1336.3 L514.8,1340.5 L517.8,1344.9 L520.8,1349.5 L523.8,1354.2 L526.8,1359.0 L529.8,1363.9 L532.8,1368.8 L535.8,1373.8 L538.8,1378.8 L541.8,1383.7 L544.8,1388.6 L547.8,1393.5 L550.8,1398.2 L553.8,1402.9 L556.8,1407.5 L559.8,1412.0 L562.8,1416.3 L565.8,1420.6 L568.8,1424.7 L571.8,1428.6 L574.8,1432.4 L577.8,1436.1 L580.8,1439.6 L583.8,1442.9 L586.8,1446.2 L589.8,1449.2 L592.8,1452.1 L595.8,1454.8 L598.8,1457.4 L601.8,1459.9 L604.8,1462.2 L607.8,1464.4 L610.8,1466.4 L613.8,1468.3 L616.8,1470.1 L619.8,1471.8 L622.8,1473.4 L625.8,1474.9 L628.8,1476.2 L631.8,1477.5 L634.8,1478.7 L637.8,1479.7 L640.8,1480.8 L643.8,1481.7 L646.8,1482.6 L649.8,1483.4 L652.8,1484.1 L655.8,1484.8 L658.8,1485.5 L661.8,1486.0 L664.8,1486.6 L667.8,1487.1 L670.8,1487.6 L673.8,1488.0 L676.8,1488.4 L679.8,1488.8 L682.8,1489.2 L685.8,1489.5 L688.8,1489.8 L691.8,1490.1 L694.8,1490.3 L697.8,1490.6 L700.8,1490.8 L703.8,1491.1 L706.8,1491.3 L709.8,1491.5 L712.8,1491.7 L715.8,1491.8 L718.8,1492.0 L721.8,1492.2 L724.8,1492.3 L727.8,1492.5 L730.8,1492.6 L733.8,1492.8 L736.8,1492.9 L739.8,1493.0 L742.8,1493.1 L745.8,1493.2 L748.8,1493.4 L751.8,1493.5 L754.8,1493.6 L757.8,1493.7 L760.8,1493.8 L763.8,1493.9 L766.8,1493.9 L769.8,1494.0 L772.8,1494.1 L775.8,1494.2 L778.8,1494.3 L781.8,1494.4 L784.8,1494.4 L787.8,1494.5 L790.8,1494.6 L793.8,1494.6 L796.8,1494.7 L799.8,1494.8 L802.8,1494.8 L805.8,1494.9 L808.8,1495.0 L811.8,1495.0 L814.8,1495.1 L817.8,1495.1 L820.8,1495.2 L823.8,1495.2 L826.8,1495.3 L829.8,1495.3 L832.8,1495.4 L835.8,1495.4 L838.8,1495.4 L841.8,1495.5 L844.8,1495.5 L847.8,1495.6 L850.8,1495.6 L853.8,1495.6 L856.8,1495.7 L859.8,1495.7 L862.8,1495.7 L865.8,1495.8 L868.8,1495.8 L871.8,1495.8 L874.8,1495.9 L877.8,1495.9 L880.8,1495.9 L883.8,1495.9 L886.8,1496.0 L889.8,1496.0 L892.8,1496.0 L895.8,1496.0 L898.8,1496.1 L901.8,1496.1 L904.8,1496.1 L907.8,1496.1 L910.8,1496.1 L913.8,1496.1 L916.8,1496.2 L919.8,1496.2 L922.8,1496.2 L925.8,1496.2 L928.8,1496.2 L931.8,1496.2 L934.8,1496.2 L937.8,1496.2 L940.8,1496.2 L943.8,1496.3 L946.8,1496.3 L949.8,1496.3 L952.8,1496.3 L955.8,1496.3 L958.8,1496.3 L961.8,1496.3 L964.8,1496.3 L967.8,1496.3 L970.8,1496.3 L973.8,1496.3 L976.8,1496.3 L979.8,1496.3 L982.8,1496.3 L985.8,1496.3 L988.8,1496.3 L991.8,1496.3 L994.8,1496.3 L997.8,1496.3 L1000.8,1496.2 L1003.8,1496.2 L1006.8,1496.2 L1009.8,1496.2 L1012.8,1496.2 L1015.8,1496.2 L1018.8,1496.2 L1021.8,1496.2 L1024.8,1496.1 L1027.8,1496.1 L1030.8,1496.1 L1033.8,1496.1 L1036.8,1496.1 L1039.8,1496.1 L1042.8,1496.0 L1045.8,1496.0 L1048.8,1496.0 L1051.8,1496.0 L1054.8,1495.9 L1057.8,1495.9 L1060.8,1495.9 L1063.8,1495.8 L1066.8,1495.8 L1069.8,1495.8 L1072.8,1495.7 L1075.8,1495.7 L1078.8,1495.7 L1081.8,1495.6 L1084.8,1495.6 L1087.8,1495.5 L1090.8,1495.5 L1093.8,1495.4 L1096.8,1495.4 L1099.8,1495.4 L1102.8,1495.3 L1105.8,1495.2 L1108.8,1495.2 L1111.8,1495.1 L1114.8,1495.1 L1117.8,1495.0 L1120.8,1494.9 L1123.8,1494.9 L1126.8,1494.8 L1129.8,1494.7 L1132.8,1494.7 L1135.8,1494.6 L1138.8,1494.5 L1141.8,1494.4 L1144.8,1494.3 L1147.8,1494.2 L1150.8,1494.1 L1153.8,1494.0 L1156.8,1493.9 L1159.8,1493.8 L1162.8,1493.7 L1165.8,1493.6 L1168.8,1493.5 L1171.8,1493.4 L1174.8,1493.2 L1177.8,1493.1 L1180.8,1493.0 L1183.8,1492.8 L1186.8,1492.7 L1189.8,1492.5 L1192.8,1492.4 L1195.8,1492.2 L1198.8,1492.0 L1201.8,1491.8 L1204.8,1491.6 L1207.8,1491.4 L1210.8,1491.2 L1213.8,1491.0 L1216.8,1490.8 L1219.8,1490.5 L1222.8,1490.2 L1225.8,1490.0 L1228.8,1489.7 L1231.8,1489.4 L1234.8,1489.0 L1237.8,1488.7 L1240.8,1488.3 L1243.8,1487.9 L1246.8,1487.5 L1249.8,1487.1 L1252.8,1486.6 L1255.8,1486.1 L1258.8,1485.5 L1261.8,1485.0 L1264.8,1484.3 L1267.8,1483.7 L1270.8,1482.9 L1273.8,1482.2 L1276.8,1481.3 L1279.8,1480.4 L1282.8,1479.5 L1285.8,1478.4 L1288.8,1477.3 L1291.8,1476.2 L1294.8,1474.9 L1297.8,1473.5 L1300.8,1472.0 L1303.8,1470.5 L1306.8,1468.8 L1309.8,1467.0 L1312.8,1465.1 L1315.8,1463.1 L1318.8,1460.9 L1321.8,1458.6 L1324.8,1456.2 L1327.8,1453.7 L1330.8,1451.0 L1333.8,1448.2 L1336.8,1445.2 L1339.8,1442.1 L1342.8,1438.8 L1345.8,1435.4 L1348.8,1431.9 L1351.8,1428.3 L1354.8,1424.5 L1357.8,1420.6 L1360.8,1416.7 L1363.8,1412.6 L1366.8,1408.5 L1369.8,1404.4 L1372.8,1400.3 L1375.8,1396.2 L1378.8,1392.1 L1381.8,1388.2 L1384.8,1384.3 L1387.8,1380.7 L1390.8,1377.3 L1393.8,1374.1 L1396.8,1371.3 L1399.8,1368.9 L1402.8,1366.9 L1405.8,1365.4 L1408.8,1364.3 L1411.8,1363.7 L1414.8,1363.7 L1417.8,1364.0 L1420.8,1364.7 L1423.8,1365.9 L1426.8,1367.4 L1429.8,1369.2 L1432.8,1371.4 L1435.8,1373.8 L1438.8,1376.5 L1441.8,1379.5 L1444.8,1382.6 L1447.8,1386.0 L1450.8,1389.4 L1453.8,1393.0 L1456.8,1396.6 L1459.8,1400.3 L1462.8,1404.0 L1465.8,1407.8 L1468.8,1411.5 L1471.8,1415.2 L1474.8,1418.8 L1477.8,1422.4 L1480.8,1425.9 L1483.8,1429.4 L1486.8,1432.7 L1489.8,1435.9 L1492.8,1439.1 L1495.8,1442.1 L1498.8,1445.0 L1501.8,1447.7 L1504.8,1450.4 L1507.8,1452.9 L1510.8,1455.2 L1513.8,1457.5 L1516.8,1459.6 L1519.8,1461.6 L1522.8,1463.5 L1525.8,1465.3 L1528.8,1466.9 L1531.8,1468.5 L1534.8,1469.9 L1537.8,1471.3 L1540.8,1472.5 L1543.8,1473.7 L1546.8,1474.7 L1549.8,1475.7 L1552.8,1476.6 L1555.8,1477.5 L1558.8,1478.2 L1561.8,1478.9 L1564.8,1479.6 L1567.8,1480.2 L1570.8,1480.8 L1573.8,1481.3 L1576.8,1481.7 L1579.8,1482.2 L1582.8,1482.6 L1585.8,1482.9 L1588.8,1483.3 L1591.8,1483.6 L1594.8,1483.9 L1597.8,1484.1 L1600.8,1484.4 L1603.8,1484.6 L1606.8,1484.8 L1609.8,1485.0 L1612.8,1485.2 L1615.8,1485.4 L1618.8,1485.6 L1621.8,1485.7 L1624.8,1485.9 L1627.8,1486.0 L1630.8,1486.1 L1633.8,1486.3 L1636.8,1486.4 L1639.8,1486.5 L1642.8,1486.6 L1645.8,1486.7 L1648.8,1486.8 L1651.8,1486.9 L1654.8,1487.0 L1657.8,1487.1 L1660.8,1487.2 L1663.8,1487.3 L1666.8,1487.4 L1669.8,1487.5 L1672.8,1487.5 L1675.8,1487.6 L1678.8,1487.7 L1681.8,1487.8 L1684.8,1487.8 L1687.8,1487.9 L1690.8,1488.0 L1693.8,1488.0 L1696.8,1488.1 L1699.8,1488.2 L1702.8,1488.2 L1705.8,1488.3 L1708.8,1488.3 L1711.8,1488.4 L1714.8,1488.4 L1717.8,1488.5 L1720.8,1488.5 L1723.8,1488.6 L1726.8,1488.6 L1729.8,1488.7 L1732.8,1488.7 L1735.8,1488.8 L1738.8,1488.8 L1741.8,1488.9 L1744.8,1488.9 L1747.8,1488.9 L1750.8,1489.0 L1753.8,1489.0 L1756.8,1489.1 L1759.8,1489.1 L1762.8,1489.1 L1765.8,1489.2 L1768.8,1489.2 L1771.8,1489.2 L1774.8,1489.3 L1777.8,1489.3 L1780.8,1489.3 L1783.8,1489.4 L1786.8,1489.4 L1789.8,1489.4 L1792.8,1489.5 L1795.8,1489.5 L1798.8,1489.5 L1801.8,1489.5 L1804.8,1489.6 L1807.8,1489.6 L1810.8,1489.6 L1813.8,1489.7 L1816.8,1489.7 L1819.8,1489.7 L1822.8,1489.7 L1825.8,1489.8 L1828.8,1489.8 L1831.8,1489.8 L1834.8,1489.8 L1837.8,1489.9 L1840.8,1489.9 L1843.8,1489.9 L1846.8,1489.9 L1849.8,1489.9 L1852.8,1490.0 L1855.8,1490.0 L1858.8,1490.0 L1861.8,1490.0 L1864.8,1490.0 L1867.8,1490.1 L1870.8,1490.1 L1873.8,1490.1 L1876.8,1490.1 L1879.8,1490.1 L1882.8,1490.2 L1885.8,1490.2 L1888.8,1490.2 L1891.8,1490.2 L1894.8,1490.2 L1897.8,1490.2 L1900.8,1490.3 L1903.8,1490.3 L1906.8,1490.3 L1909.8,1490.3 L1912.8,1490.3 L1915.8,1490.3 L1918.8,1490.4 L1921.8,1490.4 L1924.8,1490.4 L1927.8,1490.4 L1930.8,1490.4 L1933.8,1490.4 L1936.8,1490.4 L1939.8,1490.5 L1942.8,1490.5 L1945.8,1490.5 L1948.8,1490.5 L1951.8,1490.5 L1954.8,1490.5 L1957.8,1490.5 L1960.8,1490.6 L1963.8,1490.6 L1966.8,1490.6 L1969.8,1490.6 L1972.8,1490.6 L1975.8,1490.6 L1978.8,1490.6 L1981.8,1490.6 L1984.8,1490.7 L1987.8,1490.7 L1990.8,1490.7 L1993.8,1490.7 L1996.8,1490.7 L1999.8,1490.7 L2002.8,1490.7 L2005.8,1490.7 L2008.8,1490.7 L2011.8,1490.8 L2014.8,1490.8 L2017.8,1490.8 L2020.8,1490.8 L2023.8,1490.8 L2026.8,1490.8 L2029.8,1490.8 L2032.8,1490.8 L2035.8,1490.8 L2038.8,1490.9 L2041.8,1490.9 L2044.8,1490.9 L2047.8,1490.9 L2050.8,1490.9 L2053.8,1490.9 L2056.8,1490.9 L2059.8,1490.9 L2062.8,1490.9 L2065.8,1490.9 L2068.8,1491.0 L2071.8,1491.0 L2074.8,1491.0 L2077.8,1491.0 L2080.8,1491.0 L2083.8,1491.0 L2086.8,1491.0 L2089.8,1491.0 L2092.8,1491.0 L2095.8,1491.0 L2098.8,1491.0" fill="none" stroke="#080808" stroke-width="7.5" stroke-linejoin="round"/>
<text transform="translate(160.8,1680.5) scale(1.065,1)" font-size="64.5" text-anchor="middle" fill="#080808">402</text>
<text transform="translate(437.7,1680.5) scale(1.065,1)" font-size="64.5" text-anchor="middle" fill="#080808">404</text>
<text transform="translate(714.6,1680.5) scale(1.065,1)" font-size="64.5" text-anchor="middle" fill="#080808">406</text>
<text transform="translate(991.5,1680.5) scale(1.065,1)" font-size="64.5" text-anchor="middle" fill="#080808">408</text>
<text transform="translate(1268.5,1680.5) scale(1.065,1)" font-size="64.5" text-anchor="middle" fill="#080808">410</text>
<text transform="translate(1545.4,1680.5) scale(1.065,1)" font-size="64.5" text-anchor="middle" fill="#080808">412</text>
<text transform="translate(1822.3,1680.5) scale(1.065,1)" font-size="64.5" text-anchor="middle" fill="#080808">414</text>
<text transform="translate(2099.2,1680.5) scale(1.065,1)" font-size="64.5" text-anchor="middle" fill="#080808">416</text>
<path d="M160.8,1579.8v32.5 M299.3,1579.8v17.5 M437.7,1579.8v32.5 M576.2,1579.8v17.5 M714.6,1579.8v32.5 M853.1,1579.8v17.5 M991.5,1579.8v32.5 M1130.0,1579.8v17.5 M1268.5,1579.8v32.5 M1406.9,1579.8v17.5 M1545.4,1579.8v32.5 M1683.8,1579.8v17.5 M1822.3,1579.8v32.5 M1960.7,1579.8v17.5 M2099.2,1579.8v32.5" stroke="#080808" stroke-width="7.2" fill="none"/>
<path d="M156.75,47.3H2103.25M156.75,1579.8H2103.25" stroke="#080808" stroke-width="7.6" fill="none"/>
<path d="M160.8,47.3V1579.8M2099.2,47.3V1579.8" stroke="#080808" stroke-width="8.1" fill="none"/>
<text transform="translate(933.4,1787.8) scale(1.065,1)" font-size="78.3" fill="#080808">B.E. (eV)</text>
<text transform="translate(107.0,1025.2) scale(1.065,1) rotate(-90)" font-size="82.7" fill="#080808">Intensity (c/s)</text>
<text transform="translate(180.9,135.3) scale(1.065,1)" font-size="78.1" fill="#080808">Cd-3d</text>
<text transform="translate(508.2,121.8) scale(1.065,1)" font-size="65.6" fill="#8a10f2">Cd 3d<tspan font-size="48.5" dx="1.3" dy="29.2">5/2</tspan></text>
<text transform="translate(613.3,233.0) scale(1.065,1)" font-size="58.8" fill="#0b7a7a">404.73 eV</text>
<text transform="translate(1051.2,251.0) scale(1.065,1)" font-size="103.0" fill="#fc0a0a">(a)</text>
<text transform="translate(1438.0,227.0) scale(1.065,1)" font-size="66.1" fill="#8a10f2">Cd 3d<tspan font-size="47.0" dx="2.1" dy="28.5">3/2</tspan></text>
<text transform="translate(1519.4,326.0) scale(1.065,1)" font-size="58.8" fill="#0b7a7a">411.50 eV</text>
<text transform="translate(1909.8,465.0) scale(1.065,1)" font-size="66.4" fill="#0b7a7a">C-48</text>
<text transform="translate(599.6,600.4) scale(1.065,1)" font-size="58.8" fill="#0808f8">404.96 eV</text>
<text transform="translate(1473.0,615.3) scale(1.065,1)" font-size="58.8" fill="#0808f8">404.70 eV</text>
<text transform="translate(1912.0,733.3) scale(1.065,1)" font-size="66.4" fill="#0808f8">C-24</text>
<text transform="translate(567.2,881.4) scale(1.065,1)" font-size="58.8" fill="#fc0a0a">404.52 eV</text>
<text transform="translate(1464.8,946.2) scale(1.065,1)" font-size="58.8" fill="#fc0a0a">411.30 eV</text>
<text transform="translate(1921.3,1185.0) scale(1.065,1)" font-size="66.4" fill="#fc0a0a">C-18</text>
<text transform="translate(512.3,1320.3) scale(1.065,1)" font-size="58.8" fill="#080808">404.32 eV</text>
<text transform="translate(1452.3,1367.7) scale(1.065,1)" font-size="58.8" fill="#080808">411.10 eV</text>
<text transform="translate(1923.4,1443.0) scale(1.065,1)" font-size="66.4" fill="#080808">C-6</text>
<path d="M914.5,1901V3280.4" stroke="#1a1a1a" stroke-width="6.2" stroke-dasharray="24.8 27.3" fill="none"/>
<path d="M1233.7,1928.9V3309.9" stroke="#1c1cf0" stroke-width="6.2" stroke-dasharray="24.8 27.36" fill="none"/>
<path d="M141.5,2281.5 L144.5,2281.5 L147.5,2281.5 L150.5,2281.5 L153.5,2281.5 L156.5,2281.5 L159.5,2281.4 L162.5,2281.4 L165.5,2281.4 L168.5,2281.4 L171.5,2281.4 L174.5,2281.4 L177.5,2281.4 L180.5,2281.4 L183.5,2281.3 L186.5,2281.3 L189.5,2281.3 L192.5,2281.3 L195.5,2281.3 L198.5,2281.3 L201.5,2281.2 L204.5,2281.2 L207.5,2281.2 L210.5,2281.2 L213.5,2281.2 L216.5,2281.2 L219.5,2281.2 L222.5,2281.1 L225.5,2281.1 L228.5,2281.1 L231.5,2281.1 L234.5,2281.1 L237.5,2281.1 L240.5,2281.0 L243.5,2281.0 L246.5,2281.0 L249.5,2281.0 L252.5,2281.0 L255.5,2281.0 L258.5,2280.9 L261.5,2280.9 L264.5,2280.9 L267.5,2280.9 L270.5,2280.9 L273.5,2280.8 L276.5,2280.8 L279.5,2280.8 L282.5,2280.8 L285.5,2280.8 L288.5,2280.7 L291.5,2280.7 L294.5,2280.7 L297.5,2280.7 L300.5,2280.7 L303.5,2280.6 L306.5,2280.6 L309.5,2280.6 L312.5,2280.6 L315.5,2280.6 L318.5,2280.5 L321.5,2280.5 L324.5,2280.5 L327.5,2280.5 L330.5,2280.4 L333.5,2280.4 L336.5,2280.4 L339.5,2280.4 L342.5,2280.3 L345.5,2280.3 L348.5,2280.3 L351.5,2280.3 L354.5,2280.2 L357.5,2280.2 L360.5,2280.2 L363.5,2280.2 L366.5,2280.1 L369.5,2280.1 L372.5,2280.1 L375.5,2280.0 L378.5,2280.0 L381.5,2280.0 L384.5,2280.0 L387.5,2279.9 L390.5,2279.9 L393.5,2279.9 L396.5,2279.8 L399.5,2279.8 L402.5,2279.8 L405.5,2279.7 L408.5,2279.7 L411.5,2279.7 L414.5,2279.6 L417.5,2279.6 L420.5,2279.6 L423.5,2279.5 L426.5,2279.5 L429.5,2279.5 L432.5,2279.4 L435.5,2279.4 L438.5,2279.3 L441.5,2279.3 L444.5,2279.3 L447.5,2279.2 L450.5,2279.2 L453.5,2279.1 L456.5,2279.1 L459.5,2279.1 L462.5,2279.0 L465.5,2279.0 L468.5,2278.9 L471.5,2278.9 L474.5,2278.8 L477.5,2278.8 L480.5,2278.8 L483.5,2278.7 L486.5,2278.7 L489.5,2278.6 L492.5,2278.6 L495.5,2278.5 L498.5,2278.5 L501.5,2278.4 L504.5,2278.4 L507.5,2278.3 L510.5,2278.2 L513.5,2278.2 L516.5,2278.1 L519.5,2278.1 L522.5,2278.0 L525.5,2277.9 L528.5,2277.9 L531.5,2277.8 L534.5,2277.7 L537.5,2277.7 L540.5,2277.6 L543.5,2277.5 L546.5,2277.4 L549.5,2277.4 L552.5,2277.3 L555.5,2277.2 L558.5,2277.1 L561.5,2277.0 L564.5,2276.9 L567.5,2276.8 L570.5,2276.7 L573.5,2276.6 L576.5,2276.5 L579.5,2276.4 L582.5,2276.3 L585.5,2276.2 L588.5,2276.1 L591.5,2276.0 L594.5,2275.9 L597.5,2275.8 L600.5,2275.6 L603.5,2275.5 L606.5,2275.4 L609.5,2275.3 L612.5,2275.1 L615.5,2275.0 L618.5,2274.9 L621.5,2274.7 L624.5,2274.6 L627.5,2274.4 L630.5,2274.3 L633.5,2274.1 L636.5,2274.0 L639.5,2273.8 L642.5,2273.7 L645.5,2273.5 L648.5,2273.3 L651.5,2273.2 L654.5,2273.0 L657.5,2272.8 L660.5,2272.6 L663.5,2272.4 L666.5,2272.2 L669.5,2272.0 L672.5,2271.8 L675.5,2271.6 L678.5,2271.3 L681.5,2271.1 L684.5,2270.8 L687.5,2270.6 L690.5,2270.3 L693.5,2270.0 L696.5,2269.7 L699.5,2269.4 L702.5,2269.0 L705.5,2268.7 L708.5,2268.3 L711.5,2267.9 L714.5,2267.5 L717.5,2267.1 L720.5,2266.6 L723.5,2266.2 L726.5,2265.7 L729.5,2265.1 L732.5,2264.6 L735.5,2264.0 L738.5,2263.3 L741.5,2262.7 L744.5,2261.9 L747.5,2261.2 L750.5,2260.4 L753.5,2259.5 L756.5,2258.6 L759.5,2257.7 L762.5,2256.7 L765.5,2255.6 L768.5,2254.5 L771.5,2253.2 L774.5,2252.0 L777.5,2250.6 L780.5,2249.2 L783.5,2247.6 L786.5,2246.0 L789.5,2244.3 L792.5,2242.5 L795.5,2240.6 L798.5,2238.6 L801.5,2236.5 L804.5,2234.3 L807.5,2231.9 L810.5,2229.5 L813.5,2226.9 L816.5,2224.1 L819.5,2221.3 L822.5,2218.3 L825.5,2215.1 L828.5,2211.8 L831.5,2208.4 L834.5,2204.8 L837.5,2201.0 L840.5,2197.1 L843.5,2193.0 L846.5,2188.8 L849.5,2184.4 L852.5,2179.8 L855.5,2175.0 L858.5,2170.1 L861.5,2165.0 L864.5,2159.8 L867.5,2154.3 L870.5,2148.7 L873.5,2143.0 L876.5,2137.0 L879.5,2131.0 L882.5,2124.7 L885.5,2118.3 L888.5,2111.8 L891.5,2105.1 L894.5,2098.3 L897.5,2091.4 L900.5,2084.3 L903.5,2077.2 L906.5,2069.9 L909.5,2062.5 L912.5,2055.1 L915.5,2047.6 L918.5,2040.1 L921.5,2032.5 L924.5,2024.8 L927.5,2017.2 L930.5,2009.6 L933.5,2002.0 L936.5,1994.4 L939.5,1986.9 L942.5,1979.4 L945.5,1972.1 L948.5,1964.8 L951.5,1957.7 L954.5,1950.7 L957.5,1943.9 L960.5,1937.3 L963.5,1930.9 L966.5,1924.7 L969.5,1918.8 L972.5,1913.2 L975.5,1907.9 L978.5,1902.9 L981.5,1898.2 L984.5,1893.9 L987.5,1890.0 L990.5,1886.4 L993.5,1883.3 L996.5,1880.6 L999.5,1878.3 L1002.5,1876.5 L1005.5,1875.2 L1008.5,1874.3 L1011.5,1873.8 L1014.5,1873.8 L1017.5,1874.2 L1020.5,1875.0 L1023.5,1876.1 L1026.5,1877.5 L1029.5,1879.3 L1032.5,1881.5 L1035.5,1884.0 L1038.5,1886.8 L1041.5,1890.0 L1044.5,1893.4 L1047.5,1897.2 L1050.5,1901.2 L1053.5,1905.5 L1056.5,1910.1 L1059.5,1914.9 L1062.5,1919.9 L1065.5,1925.2 L1068.5,1930.6 L1071.5,1936.2 L1074.5,1942.0 L1077.5,1948.0 L1080.5,1954.1 L1083.5,1960.3 L1086.5,1966.6 L1089.5,1973.0 L1092.5,1979.4 L1095.5,1985.9 L1098.5,1992.5 L1101.5,1999.1 L1104.5,2005.6 L1107.5,2012.2 L1110.5,2018.7 L1113.5,2025.2 L1116.5,2031.6 L1119.5,2038.0 L1122.5,2044.3 L1125.5,2050.4 L1128.5,2056.5 L1131.5,2062.5 L1134.5,2068.3 L1137.5,2073.9 L1140.5,2079.4 L1143.5,2084.8 L1146.5,2089.9 L1149.5,2094.9 L1152.5,2099.7 L1155.5,2104.2 L1158.5,2108.6 L1161.5,2112.8 L1164.5,2116.7 L1167.5,2120.4 L1170.5,2123.8 L1173.5,2127.1 L1176.5,2130.0 L1179.5,2132.8 L1182.5,2135.3 L1185.5,2137.5 L1188.5,2139.5 L1191.5,2141.3 L1194.5,2142.8 L1197.5,2144.0 L1200.5,2145.0 L1203.5,2145.8 L1206.5,2146.3 L1209.5,2146.6 L1212.5,2146.7 L1215.5,2146.5 L1218.5,2146.1 L1221.5,2145.5 L1224.5,2144.7 L1227.5,2143.7 L1230.5,2142.5 L1233.5,2141.2 L1236.5,2139.6 L1239.5,2137.9 L1242.5,2136.0 L1245.5,2134.0 L1248.5,2131.8 L1251.5,2129.5 L1254.5,2127.1 L1257.5,2124.6 L1260.5,2122.0 L1263.5,2119.3 L1266.5,2116.6 L1269.5,2113.8 L1272.5,2111.0 L1275.5,2108.1 L1278.5,2105.3 L1281.5,2102.4 L1284.5,2099.6 L1287.5,2096.7 L1290.5,2094.0 L1293.5,2091.2 L1296.5,2088.6 L1299.5,2086.0 L1302.5,2083.5 L1305.5,2081.2 L1308.5,2078.9 L1311.5,2076.8 L1314.5,2074.8 L1317.5,2073.0 L1320.5,2071.3 L1323.5,2069.9 L1326.5,2068.6 L1329.5,2067.5 L1332.5,2066.6 L1335.5,2065.9 L1338.5,2065.4 L1341.5,2065.1 L1344.5,2065.1 L1347.5,2065.2 L1350.5,2065.6 L1353.5,2066.1 L1356.5,2066.8 L1359.5,2067.7 L1362.5,2068.8 L1365.5,2070.0 L1368.5,2071.4 L1371.5,2073.0 L1374.5,2074.8 L1377.5,2076.7 L1380.5,2078.7 L1383.5,2081.0 L1386.5,2083.3 L1389.5,2085.8 L1392.5,2088.5 L1395.5,2091.2 L1398.5,2094.1 L1401.5,2097.2 L1404.5,2100.3 L1407.5,2103.5 L1410.5,2106.8 L1413.5,2110.2 L1416.5,2113.7 L1419.5,2117.2 L1422.5,2120.8 L1425.5,2124.5 L1428.5,2128.2 L1431.5,2131.9 L1434.5,2135.7 L1437.5,2139.5 L1440.5,2143.3 L1443.5,2147.1 L1446.5,2150.9 L1449.5,2154.7 L1452.5,2158.5 L1455.5,2162.3 L1458.5,2166.1 L1461.5,2169.8 L1464.5,2173.5 L1467.5,2177.1 L1470.5,2180.7 L1473.5,2184.2 L1476.5,2187.7 L1479.5,2191.1 L1482.5,2194.5 L1485.5,2197.8 L1488.5,2201.0 L1491.5,2204.1 L1494.5,2207.2 L1497.5,2210.2 L1500.5,2213.1 L1503.5,2215.9 L1506.5,2218.6 L1509.5,2221.3 L1512.5,2223.8 L1515.5,2226.3 L1518.5,2228.7 L1521.5,2231.0 L1524.5,2233.3 L1527.5,2235.4 L1530.5,2237.4 L1533.5,2239.4 L1536.5,2241.3 L1539.5,2243.1 L1542.5,2244.8 L1545.5,2246.5 L1548.5,2248.1 L1551.5,2249.6 L1554.5,2251.0 L1557.5,2252.3 L1560.5,2253.6 L1563.5,2254.8 L1566.5,2256.0 L1569.5,2257.1 L1572.5,2258.1 L1575.5,2259.1 L1578.5,2260.0 L1581.5,2260.9 L1584.5,2261.7 L1587.5,2262.4 L1590.5,2263.2 L1593.5,2263.8 L1596.5,2264.5 L1599.5,2265.0 L1602.5,2265.6 L1605.5,2266.1 L1608.5,2266.6 L1611.5,2267.0 L1614.5,2267.5 L1617.5,2267.9 L1620.5,2268.2 L1623.5,2268.6 L1626.5,2268.9 L1629.5,2269.2 L1632.5,2269.5 L1635.5,2269.8 L1638.5,2270.1 L1641.5,2270.3 L1644.5,2270.6 L1647.5,2270.8 L1650.5,2271.0 L1653.5,2271.3 L1656.5,2271.5 L1659.5,2271.7 L1662.5,2271.9 L1665.5,2272.1 L1668.5,2272.3 L1671.5,2272.4 L1674.5,2272.6 L1677.5,2272.8 L1680.5,2273.0 L1683.5,2273.2 L1686.5,2273.3 L1689.5,2273.5 L1692.5,2273.7 L1695.5,2273.9 L1698.5,2274.0 L1701.5,2274.2 L1704.5,2274.4 L1707.5,2274.5 L1710.5,2274.7 L1713.5,2274.8 L1716.5,2275.0 L1719.5,2275.2 L1722.5,2275.3 L1725.5,2275.4 L1728.5,2275.6 L1731.5,2275.7 L1734.5,2275.9 L1737.5,2276.0 L1740.5,2276.2 L1743.5,2276.3 L1746.5,2276.4 L1749.5,2276.6 L1752.5,2276.7 L1755.5,2276.9 L1758.5,2277.0 L1761.5,2277.1 L1764.5,2277.3 L1767.5,2277.4 L1770.5,2277.5 L1773.5,2277.6 L1776.5,2277.7 L1779.5,2277.8 L1782.5,2277.9 L1785.5,2277.9 L1788.5,2278.0 L1791.5,2278.1 L1794.5,2278.1 L1797.5,2278.2 L1800.5,2278.2 L1803.5,2278.3 L1806.5,2278.3 L1809.5,2278.4 L1812.5,2278.4 L1815.5,2278.4 L1818.5,2278.4 L1821.5,2278.4 L1824.5,2278.4 L1827.5,2278.4 L1830.5,2278.4 L1833.5,2278.4 L1836.5,2278.4 L1839.5,2278.4 L1842.5,2278.3 L1845.5,2278.3 L1848.5,2278.2 L1851.5,2278.2 L1854.5,2278.2 L1857.5,2278.1 L1860.5,2278.1 L1863.5,2278.1 L1866.5,2278.0 L1869.5,2278.0 L1872.5,2277.9 L1875.5,2277.9 L1878.5,2277.9 L1881.5,2277.8 L1884.5,2277.8 L1887.5,2277.7 L1890.5,2277.7 L1893.5,2277.7 L1896.5,2277.6 L1899.5,2277.6 L1902.5,2277.5 L1905.5,2277.5 L1908.5,2277.5 L1911.5,2277.4 L1914.5,2277.4 L1917.5,2277.3 L1920.5,2277.3 L1923.5,2277.3 L1926.5,2277.2 L1929.5,2277.2 L1932.5,2277.2 L1935.5,2277.1 L1938.5,2277.1 L1941.5,2277.0 L1944.5,2277.0 L1947.5,2277.0 L1950.5,2276.9 L1953.5,2276.9 L1956.5,2276.8 L1959.5,2276.8 L1962.5,2276.8 L1965.5,2276.7 L1968.5,2276.7 L1971.5,2276.6 L1974.5,2276.6 L1977.5,2276.6 L1980.5,2276.5 L1983.5,2276.5 L1986.5,2276.4 L1989.5,2276.4 L1992.5,2276.3 L1995.5,2276.3 L1998.5,2276.3 L2001.5,2276.3 L2004.5,2276.3 L2007.5,2276.4 L2010.5,2276.4 L2013.5,2276.5 L2016.5,2276.6 L2019.5,2276.7 L2022.5,2276.8 L2025.5,2277.0 L2028.5,2277.1 L2031.5,2277.3 L2034.5,2277.5 L2037.5,2277.8 L2040.5,2278.0 L2043.5,2278.3 L2046.5,2278.5 L2049.5,2278.8 L2052.5,2279.1 L2055.5,2279.4 L2058.5,2279.7 L2061.5,2280.0 L2064.5,2280.3 L2067.5,2280.5 L2070.5,2280.8 L2073.5,2281.1 L2076.5,2281.4 L2079.5,2281.7 L2082.5,2282.0 L2085.5,2282.3 L2088.5,2282.6" fill="none" stroke="#0b7a7a" stroke-width="7.5" stroke-linejoin="round"/>
<path d="M141.5,2585.3 L144.5,2585.3 L147.5,2585.2 L150.5,2585.1 L153.5,2585.0 L156.5,2584.9 L159.5,2584.8 L162.5,2584.7 L165.5,2584.5 L168.5,2584.4 L171.5,2584.3 L174.5,2584.2 L177.5,2584.0 L180.5,2583.9 L183.5,2583.8 L186.5,2583.6 L189.5,2583.5 L192.5,2583.4 L195.5,2583.3 L198.5,2583.2 L201.5,2583.1 L204.5,2583.0 L207.5,2582.9 L210.5,2582.8 L213.5,2582.7 L216.5,2582.6 L219.5,2582.5 L222.5,2582.4 L225.5,2582.4 L228.5,2582.3 L231.5,2582.2 L234.5,2582.2 L237.5,2582.1 L240.5,2582.1 L243.5,2582.0 L246.5,2582.0 L249.5,2581.9 L252.5,2581.9 L255.5,2581.9 L258.5,2581.9 L261.5,2581.8 L264.5,2581.8 L267.5,2581.8 L270.5,2581.7 L273.5,2581.7 L276.5,2581.7 L279.5,2581.7 L282.5,2581.6 L285.5,2581.6 L288.5,2581.6 L291.5,2581.5 L294.5,2581.5 L297.5,2581.5 L300.5,2581.5 L303.5,2581.4 L306.5,2581.4 L309.5,2581.4 L312.5,2581.3 L315.5,2581.3 L318.5,2581.3 L321.5,2581.3 L324.5,2581.2 L327.5,2581.2 L330.5,2581.2 L333.5,2581.1 L336.5,2581.1 L339.5,2581.1 L342.5,2581.0 L345.5,2581.0 L348.5,2581.0 L351.5,2580.9 L354.5,2580.9 L357.5,2580.9 L360.5,2580.8 L363.5,2580.8 L366.5,2580.8 L369.5,2580.7 L372.5,2580.7 L375.5,2580.7 L378.5,2580.6 L381.5,2580.6 L384.5,2580.6 L387.5,2580.5 L390.5,2580.5 L393.5,2580.4 L396.5,2580.4 L399.5,2580.4 L402.5,2580.3 L405.5,2580.3 L408.5,2580.3 L411.5,2580.2 L414.5,2580.2 L417.5,2580.1 L420.5,2580.1 L423.5,2580.0 L426.5,2580.0 L429.5,2580.0 L432.5,2579.9 L435.5,2579.9 L438.5,2579.8 L441.5,2579.8 L444.5,2579.7 L447.5,2579.7 L450.5,2579.6 L453.5,2579.6 L456.5,2579.5 L459.5,2579.5 L462.5,2579.4 L465.5,2579.4 L468.5,2579.3 L471.5,2579.2 L474.5,2579.2 L477.5,2579.1 L480.5,2579.1 L483.5,2579.0 L486.5,2578.9 L489.5,2578.9 L492.5,2578.8 L495.5,2578.7 L498.5,2578.7 L501.5,2578.6 L504.5,2578.5 L507.5,2578.4 L510.5,2578.3 L513.5,2578.3 L516.5,2578.2 L519.5,2578.1 L522.5,2578.0 L525.5,2577.9 L528.5,2577.8 L531.5,2577.7 L534.5,2577.6 L537.5,2577.5 L540.5,2577.4 L543.5,2577.2 L546.5,2577.1 L549.5,2577.0 L552.5,2576.9 L555.5,2576.7 L558.5,2576.6 L561.5,2576.5 L564.5,2576.3 L567.5,2576.2 L570.5,2576.0 L573.5,2575.9 L576.5,2575.7 L579.5,2575.5 L582.5,2575.3 L585.5,2575.1 L588.5,2574.9 L591.5,2574.7 L594.5,2574.5 L597.5,2574.3 L600.5,2574.1 L603.5,2573.9 L606.5,2573.6 L609.5,2573.4 L612.5,2573.1 L615.5,2572.9 L618.5,2572.6 L621.5,2572.3 L624.5,2572.0 L627.5,2571.7 L630.5,2571.4 L633.5,2571.0 L636.5,2570.7 L639.5,2570.3 L642.5,2570.0 L645.5,2569.6 L648.5,2569.2 L651.5,2568.8 L654.5,2568.3 L657.5,2567.9 L660.5,2567.5 L663.5,2567.0 L666.5,2566.5 L669.5,2566.0 L672.5,2565.5 L675.5,2565.0 L678.5,2564.4 L681.5,2563.8 L684.5,2563.2 L687.5,2562.6 L690.5,2562.0 L693.5,2561.4 L696.5,2560.7 L699.5,2560.0 L702.5,2559.3 L705.5,2558.6 L708.5,2557.8 L711.5,2557.0 L714.5,2556.3 L717.5,2555.4 L720.5,2554.6 L723.5,2553.7 L726.5,2552.8 L729.5,2551.9 L732.5,2551.0 L735.5,2550.0 L738.5,2549.0 L741.5,2548.0 L744.5,2546.9 L747.5,2545.9 L750.5,2544.8 L753.5,2543.6 L756.5,2542.5 L759.5,2541.3 L762.5,2540.1 L765.5,2538.8 L768.5,2537.5 L771.5,2536.2 L774.5,2534.9 L777.5,2533.5 L780.5,2532.1 L783.5,2530.7 L786.5,2529.2 L789.5,2527.8 L792.5,2526.2 L795.5,2524.7 L798.5,2523.1 L801.5,2521.5 L804.5,2519.8 L807.5,2518.2 L810.5,2516.5 L813.5,2514.7 L816.5,2513.0 L819.5,2511.2 L822.5,2509.3 L825.5,2507.5 L828.5,2505.6 L831.5,2503.7 L834.5,2501.7 L837.5,2499.7 L840.5,2497.7 L843.5,2495.7 L846.5,2493.6 L849.5,2491.5 L852.5,2489.4 L855.5,2487.2 L858.5,2485.1 L861.5,2482.9 L864.5,2480.7 L867.5,2478.4 L870.5,2476.1 L873.5,2473.8 L876.5,2471.5 L879.5,2469.2 L882.5,2466.8 L885.5,2464.5 L888.5,2462.1 L891.5,2459.7 L894.5,2457.2 L897.5,2454.8 L900.5,2452.3 L903.5,2449.9 L906.5,2447.4 L909.5,2444.9 L912.5,2442.4 L915.5,2439.9 L918.5,2437.4 L921.5,2434.9 L924.5,2432.3 L927.5,2429.8 L930.5,2427.3 L933.5,2424.8 L936.5,2422.2 L939.5,2419.7 L942.5,2417.2 L945.5,2414.7 L948.5,2412.2 L951.5,2409.7 L954.5,2407.2 L957.5,2404.7 L960.5,2402.3 L963.5,2399.9 L966.5,2397.4 L969.5,2395.1 L972.5,2392.7 L975.5,2390.3 L978.5,2388.0 L981.5,2385.7 L984.5,2383.4 L987.5,2381.2 L990.5,2379.0 L993.5,2376.8 L996.5,2374.7 L999.5,2372.6 L1002.5,2370.5 L1005.5,2368.5 L1008.5,2366.5 L1011.5,2364.6 L1014.5,2362.7 L1017.5,2360.9 L1020.5,2359.1 L1023.5,2357.3 L1026.5,2355.6 L1029.5,2354.0 L1032.5,2352.4 L1035.5,2350.9 L1038.5,2349.5 L1041.5,2348.1 L1044.5,2346.7 L1047.5,2345.5 L1050.5,2344.2 L1053.5,2343.1 L1056.5,2342.0 L1059.5,2341.0 L1062.5,2340.1 L1065.5,2339.2 L1068.5,2338.4 L1071.5,2337.6 L1074.5,2337.0 L1077.5,2336.4 L1080.5,2335.8 L1083.5,2335.4 L1086.5,2335.0 L1089.5,2334.7 L1092.5,2334.5 L1095.5,2334.3 L1098.5,2334.2 L1101.5,2334.3 L1104.5,2334.4 L1107.5,2334.6 L1110.5,2334.9 L1113.5,2335.3 L1116.5,2335.8 L1119.5,2336.4 L1122.5,2337.2 L1125.5,2338.0 L1128.5,2338.9 L1131.5,2339.8 L1134.5,2340.9 L1137.5,2342.1 L1140.5,2343.3 L1143.5,2344.7 L1146.5,2346.1 L1149.5,2347.6 L1152.5,2349.1 L1155.5,2350.8 L1158.5,2352.5 L1161.5,2354.2 L1164.5,2356.1 L1167.5,2358.0 L1170.5,2359.9 L1173.5,2361.9 L1176.5,2363.9 L1179.5,2366.0 L1182.5,2368.1 L1185.5,2370.3 L1188.5,2372.5 L1191.5,2374.7 L1194.5,2377.0 L1197.5,2379.3 L1200.5,2381.5 L1203.5,2383.9 L1206.5,2386.2 L1209.5,2388.5 L1212.5,2390.8 L1215.5,2393.1 L1218.5,2395.4 L1221.5,2397.7 L1224.5,2400.0 L1227.5,2402.3 L1230.5,2404.5 L1233.5,2406.7 L1236.5,2408.9 L1239.5,2411.1 L1242.5,2413.2 L1245.5,2415.3 L1248.5,2417.3 L1251.5,2419.3 L1254.5,2421.2 L1257.5,2423.1 L1260.5,2425.0 L1263.5,2426.7 L1266.5,2428.5 L1269.5,2430.1 L1272.5,2431.7 L1275.5,2433.2 L1278.5,2434.7 L1281.5,2436.1 L1284.5,2437.4 L1287.5,2438.6 L1290.5,2439.8 L1293.5,2440.9 L1296.5,2442.0 L1299.5,2442.9 L1302.5,2443.8 L1305.5,2444.6 L1308.5,2445.3 L1311.5,2446.0 L1314.5,2446.6 L1317.5,2447.2 L1320.5,2447.6 L1323.5,2448.0 L1326.5,2448.4 L1329.5,2448.6 L1332.5,2448.9 L1335.5,2449.0 L1338.5,2449.2 L1341.5,2449.2 L1344.5,2449.2 L1347.5,2449.2 L1350.5,2449.2 L1353.5,2449.1 L1356.5,2449.0 L1359.5,2448.8 L1362.5,2448.7 L1365.5,2448.5 L1368.5,2448.3 L1371.5,2448.1 L1374.5,2448.0 L1377.5,2447.8 L1380.5,2447.6 L1383.5,2447.5 L1386.5,2447.4 L1389.5,2447.3 L1392.5,2447.3 L1395.5,2447.2 L1398.5,2447.3 L1401.5,2447.4 L1404.5,2447.5 L1407.5,2447.7 L1410.5,2448.0 L1413.5,2448.4 L1416.5,2448.8 L1419.5,2449.3 L1422.5,2449.9 L1425.5,2450.5 L1428.5,2451.3 L1431.5,2452.1 L1434.5,2453.0 L1437.5,2453.9 L1440.5,2454.8 L1443.5,2455.8 L1446.5,2456.8 L1449.5,2457.9 L1452.5,2459.0 L1455.5,2460.1 L1458.5,2461.3 L1461.5,2462.5 L1464.5,2463.8 L1467.5,2465.1 L1470.5,2466.4 L1473.5,2467.8 L1476.5,2469.2 L1479.5,2470.7 L1482.5,2472.1 L1485.5,2473.6 L1488.5,2475.2 L1491.5,2476.7 L1494.5,2478.3 L1497.5,2479.9 L1500.5,2481.6 L1503.5,2483.2 L1506.5,2484.9 L1509.5,2486.6 L1512.5,2488.3 L1515.5,2490.0 L1518.5,2491.8 L1521.5,2493.5 L1524.5,2495.3 L1527.5,2497.1 L1530.5,2498.8 L1533.5,2500.6 L1536.5,2502.4 L1539.5,2504.2 L1542.5,2505.9 L1545.5,2507.7 L1548.5,2509.5 L1551.5,2511.2 L1554.5,2513.0 L1557.5,2514.7 L1560.5,2516.4 L1563.5,2518.1 L1566.5,2519.8 L1569.5,2521.5 L1572.5,2523.1 L1575.5,2524.8 L1578.5,2526.4 L1581.5,2528.0 L1584.5,2529.6 L1587.5,2531.1 L1590.5,2532.6 L1593.5,2534.1 L1596.5,2535.6 L1599.5,2537.0 L1602.5,2538.4 L1605.5,2539.8 L1608.5,2541.1 L1611.5,2542.5 L1614.5,2543.7 L1617.5,2545.0 L1620.5,2546.2 L1623.5,2547.4 L1626.5,2548.6 L1629.5,2549.7 L1632.5,2550.8 L1635.5,2551.8 L1638.5,2552.9 L1641.5,2553.9 L1644.5,2554.8 L1647.5,2555.8 L1650.5,2556.7 L1653.5,2557.6 L1656.5,2558.4 L1659.5,2559.2 L1662.5,2560.0 L1665.5,2560.8 L1668.5,2561.5 L1671.5,2562.2 L1674.5,2562.9 L1677.5,2563.5 L1680.5,2564.1 L1683.5,2564.7 L1686.5,2565.3 L1689.5,2565.8 L1692.5,2566.4 L1695.5,2566.9 L1698.5,2567.3 L1701.5,2567.8 L1704.5,2568.2 L1707.5,2568.6 L1710.5,2569.0 L1713.5,2569.4 L1716.5,2569.7 L1719.5,2570.1 L1722.5,2570.4 L1725.5,2570.7 L1728.5,2571.0 L1731.5,2571.3 L1734.5,2571.5 L1737.5,2571.8 L1740.5,2572.0 L1743.5,2572.2 L1746.5,2572.4 L1749.5,2572.6 L1752.5,2572.8 L1755.5,2573.0 L1758.5,2573.1 L1761.5,2573.3 L1764.5,2573.4 L1767.5,2573.5 L1770.5,2573.7 L1773.5,2573.8 L1776.5,2573.9 L1779.5,2574.0 L1782.5,2574.2 L1785.5,2574.3 L1788.5,2574.4 L1791.5,2574.5 L1794.5,2574.6 L1797.5,2574.7 L1800.5,2574.7 L1803.5,2574.8 L1806.5,2574.9 L1809.5,2575.0 L1812.5,2575.1 L1815.5,2575.2 L1818.5,2575.2 L1821.5,2575.3 L1824.5,2575.4 L1827.5,2575.5 L1830.5,2575.6 L1833.5,2575.6 L1836.5,2575.7 L1839.5,2575.8 L1842.5,2575.9 L1845.5,2575.9 L1848.5,2576.0 L1851.5,2576.1 L1854.5,2576.2 L1857.5,2576.2 L1860.5,2576.3 L1863.5,2576.4 L1866.5,2576.4 L1869.5,2576.5 L1872.5,2576.6 L1875.5,2576.6 L1878.5,2576.7 L1881.5,2576.8 L1884.5,2576.8 L1887.5,2576.9 L1890.5,2577.0 L1893.5,2577.0 L1896.5,2577.1 L1899.5,2577.1 L1902.5,2577.2 L1905.5,2577.3 L1908.5,2577.3 L1911.5,2577.4 L1914.5,2577.4 L1917.5,2577.5 L1920.5,2577.5 L1923.5,2577.6 L1926.5,2577.7 L1929.5,2577.7 L1932.5,2577.8 L1935.5,2577.8 L1938.5,2577.9 L1941.5,2577.9 L1944.5,2578.0 L1947.5,2578.0 L1950.5,2578.1 L1953.5,2578.2 L1956.5,2578.2 L1959.5,2578.3 L1962.5,2578.3 L1965.5,2578.4 L1968.5,2578.4 L1971.5,2578.5 L1974.5,2578.5 L1977.5,2578.6 L1980.5,2578.6 L1983.5,2578.7 L1986.5,2578.8 L1989.5,2578.8 L1992.5,2578.9 L1995.5,2578.9 L1998.5,2579.0 L2001.5,2579.0 L2004.5,2579.1 L2007.5,2579.1 L2010.5,2579.2 L2013.5,2579.2 L2016.5,2579.3 L2019.5,2579.3 L2022.5,2579.4 L2025.5,2579.4 L2028.5,2579.5 L2031.5,2579.6 L2034.5,2579.6 L2037.5,2579.7 L2040.5,2579.7 L2043.5,2579.8 L2046.5,2579.8 L2049.5,2579.9 L2052.5,2579.9 L2055.5,2580.0 L2058.5,2580.0 L2061.5,2580.1 L2064.5,2580.1 L2067.5,2580.1 L2070.5,2580.2 L2073.5,2580.2 L2076.5,2580.3 L2079.5,2580.3 L2082.5,2580.3 L2085.5,2580.3 L2088.5,2580.4" fill="none" stroke="#0808f8" stroke-width="7.5" stroke-linejoin="round"/>
<path d="M141.5,3087.7 L144.5,3087.7 L147.5,3087.7 L150.5,3087.6 L153.5,3087.6 L156.5,3087.6 L159.5,3087.6 L162.5,3087.5 L165.5,3087.5 L168.5,3087.5 L171.5,3087.5 L174.5,3087.4 L177.5,3087.4 L180.5,3087.4 L183.5,3087.4 L186.5,3087.3 L189.5,3087.3 L192.5,3087.3 L195.5,3087.3 L198.5,3087.2 L201.5,3087.2 L204.5,3087.2 L207.5,3087.1 L210.5,3087.1 L213.5,3087.1 L216.5,3087.0 L219.5,3087.0 L222.5,3087.0 L225.5,3087.0 L228.5,3086.9 L231.5,3086.9 L234.5,3086.9 L237.5,3086.8 L240.5,3086.8 L243.5,3086.8 L246.5,3086.7 L249.5,3086.7 L252.5,3086.7 L255.5,3086.6 L258.5,3086.6 L261.5,3086.6 L264.5,3086.5 L267.5,3086.5 L270.5,3086.5 L273.5,3086.4 L276.5,3086.4 L279.5,3086.3 L282.5,3086.3 L285.5,3086.3 L288.5,3086.2 L291.5,3086.2 L294.5,3086.2 L297.5,3086.1 L300.5,3086.1 L303.5,3086.0 L306.5,3086.0 L309.5,3086.0 L312.5,3085.9 L315.5,3085.9 L318.5,3085.8 L321.5,3085.8 L324.5,3085.7 L327.5,3085.7 L330.5,3085.7 L333.5,3085.6 L336.5,3085.6 L339.5,3085.5 L342.5,3085.5 L345.5,3085.4 L348.5,3085.4 L351.5,3085.3 L354.5,3085.3 L357.5,3085.2 L360.5,3085.2 L363.5,3085.1 L366.5,3085.1 L369.5,3085.0 L372.5,3085.0 L375.5,3084.9 L378.5,3084.9 L381.5,3084.8 L384.5,3084.8 L387.5,3084.7 L390.5,3084.6 L393.5,3084.6 L396.5,3084.5 L399.5,3084.5 L402.5,3084.4 L405.5,3084.3 L408.5,3084.3 L411.5,3084.2 L414.5,3084.2 L417.5,3084.1 L420.5,3084.0 L423.5,3084.0 L426.5,3083.9 L429.5,3083.8 L432.5,3083.7 L435.5,3083.7 L438.5,3083.6 L441.5,3083.5 L444.5,3083.5 L447.5,3083.4 L450.5,3083.3 L453.5,3083.2 L456.5,3083.2 L459.5,3083.1 L462.5,3083.0 L465.5,3082.9 L468.5,3082.8 L471.5,3082.7 L474.5,3082.6 L477.5,3082.5 L480.5,3082.4 L483.5,3082.3 L486.5,3082.2 L489.5,3082.1 L492.5,3082.0 L495.5,3081.9 L498.5,3081.8 L501.5,3081.7 L504.5,3081.6 L507.5,3081.5 L510.5,3081.3 L513.5,3081.2 L516.5,3081.1 L519.5,3081.0 L522.5,3080.8 L525.5,3080.7 L528.5,3080.5 L531.5,3080.4 L534.5,3080.2 L537.5,3080.1 L540.5,3079.9 L543.5,3079.8 L546.5,3079.6 L549.5,3079.4 L552.5,3079.2 L555.5,3079.1 L558.5,3078.9 L561.5,3078.7 L564.5,3078.5 L567.5,3078.3 L570.5,3078.1 L573.5,3077.9 L576.5,3077.6 L579.5,3077.4 L582.5,3077.2 L585.5,3076.9 L588.5,3076.7 L591.5,3076.4 L594.5,3076.1 L597.5,3075.9 L600.5,3075.6 L603.5,3075.2 L606.5,3074.9 L609.5,3074.6 L612.5,3074.2 L615.5,3073.9 L618.5,3073.5 L621.5,3073.1 L624.5,3072.7 L627.5,3072.2 L630.5,3071.8 L633.5,3071.3 L636.5,3070.8 L639.5,3070.2 L642.5,3069.7 L645.5,3069.1 L648.5,3068.5 L651.5,3067.8 L654.5,3067.1 L657.5,3066.4 L660.5,3065.7 L663.5,3064.8 L666.5,3064.0 L669.5,3063.1 L672.5,3062.2 L675.5,3061.2 L678.5,3060.1 L681.5,3059.0 L684.5,3057.9 L687.5,3056.7 L690.5,3055.4 L693.5,3054.1 L696.5,3052.6 L699.5,3051.2 L702.5,3049.6 L705.5,3047.9 L708.5,3046.2 L711.5,3044.4 L714.5,3042.5 L717.5,3040.5 L720.5,3038.4 L723.5,3036.2 L726.5,3033.9 L729.5,3031.5 L732.5,3029.0 L735.5,3026.4 L738.5,3023.7 L741.5,3020.8 L744.5,3017.9 L747.5,3014.8 L750.5,3011.5 L753.5,3008.2 L756.5,3004.7 L759.5,3001.0 L762.5,2997.3 L765.5,2993.4 L768.5,2989.3 L771.5,2985.1 L774.5,2980.8 L777.5,2976.3 L780.5,2971.7 L783.5,2966.9 L786.5,2962.0 L789.5,2956.9 L792.5,2951.7 L795.5,2946.3 L798.5,2940.8 L801.5,2935.2 L804.5,2929.4 L807.5,2923.4 L810.5,2917.4 L813.5,2911.2 L816.5,2904.8 L819.5,2898.4 L822.5,2891.8 L825.5,2885.1 L828.5,2878.3 L831.5,2871.4 L834.5,2864.4 L837.5,2857.3 L840.5,2850.1 L843.5,2842.8 L846.5,2835.5 L849.5,2828.1 L852.5,2820.7 L855.5,2813.2 L858.5,2805.7 L861.5,2798.2 L864.5,2790.7 L867.5,2783.1 L870.5,2775.6 L873.5,2768.2 L876.5,2760.7 L879.5,2753.4 L882.5,2746.1 L885.5,2738.9 L888.5,2731.8 L891.5,2724.8 L894.5,2717.9 L897.5,2711.2 L900.5,2704.7 L903.5,2698.3 L906.5,2692.1 L909.5,2686.1 L912.5,2680.4 L915.5,2674.9 L918.5,2669.7 L921.5,2664.7 L924.5,2660.0 L927.5,2655.7 L930.5,2651.6 L933.5,2647.9 L936.5,2644.5 L939.5,2641.5 L942.5,2638.8 L945.5,2636.5 L948.5,2634.6 L951.5,2633.0 L954.5,2631.9 L957.5,2631.1 L960.5,2630.8 L963.5,2630.9 L966.5,2631.4 L969.5,2632.4 L972.5,2633.9 L975.5,2635.8 L978.5,2638.2 L981.5,2640.9 L984.5,2644.1 L987.5,2647.7 L990.5,2651.7 L993.5,2656.1 L996.5,2660.8 L999.5,2665.8 L1002.5,2671.1 L1005.5,2676.7 L1008.5,2682.6 L1011.5,2688.7 L1014.5,2695.1 L1017.5,2701.6 L1020.5,2708.3 L1023.5,2715.2 L1026.5,2722.2 L1029.5,2729.3 L1032.5,2736.5 L1035.5,2743.7 L1038.5,2751.0 L1041.5,2758.3 L1044.5,2765.7 L1047.5,2773.0 L1050.5,2780.3 L1053.5,2787.5 L1056.5,2794.6 L1059.5,2801.7 L1062.5,2808.6 L1065.5,2815.5 L1068.5,2822.2 L1071.5,2828.7 L1074.5,2835.1 L1077.5,2841.3 L1080.5,2847.3 L1083.5,2853.2 L1086.5,2858.8 L1089.5,2864.2 L1092.5,2869.3 L1095.5,2874.2 L1098.5,2878.9 L1101.5,2883.4 L1104.5,2887.5 L1107.5,2891.5 L1110.5,2895.1 L1113.5,2898.5 L1116.5,2901.7 L1119.5,2904.5 L1122.5,2907.1 L1125.5,2909.5 L1128.5,2911.6 L1131.5,2913.4 L1134.5,2914.9 L1137.5,2916.2 L1140.5,2917.2 L1143.5,2918.0 L1146.5,2918.6 L1149.5,2918.9 L1152.5,2919.0 L1155.5,2918.8 L1158.5,2918.5 L1161.5,2917.9 L1164.5,2917.1 L1167.5,2916.1 L1170.5,2915.0 L1173.5,2913.7 L1176.5,2912.2 L1179.5,2910.5 L1182.5,2908.8 L1185.5,2906.8 L1188.5,2904.8 L1191.5,2902.6 L1194.5,2900.4 L1197.5,2898.1 L1200.5,2895.6 L1203.5,2893.2 L1206.5,2890.6 L1209.5,2888.1 L1212.5,2885.5 L1215.5,2882.9 L1218.5,2880.3 L1221.5,2877.7 L1224.5,2875.1 L1227.5,2872.5 L1230.5,2870.0 L1233.5,2867.6 L1236.5,2865.2 L1239.5,2863.0 L1242.5,2860.8 L1245.5,2858.7 L1248.5,2856.8 L1251.5,2854.9 L1254.5,2853.3 L1257.5,2851.7 L1260.5,2850.4 L1263.5,2849.1 L1266.5,2848.1 L1269.5,2847.3 L1272.5,2846.6 L1275.5,2846.1 L1278.5,2845.8 L1281.5,2845.8 L1284.5,2845.9 L1287.5,2846.2 L1290.5,2846.7 L1293.5,2847.4 L1296.5,2848.3 L1299.5,2849.3 L1302.5,2850.5 L1305.5,2851.9 L1308.5,2853.4 L1311.5,2855.1 L1314.5,2857.0 L1317.5,2859.1 L1320.5,2861.3 L1323.5,2863.6 L1326.5,2866.1 L1329.5,2868.8 L1332.5,2871.5 L1335.5,2874.4 L1338.5,2877.5 L1341.5,2880.6 L1344.5,2883.9 L1347.5,2887.2 L1350.5,2890.7 L1353.5,2894.2 L1356.5,2897.9 L1359.5,2901.6 L1362.5,2905.3 L1365.5,2909.2 L1368.5,2913.0 L1371.5,2917.0 L1374.5,2920.9 L1377.5,2924.9 L1380.5,2928.9 L1383.5,2932.9 L1386.5,2937.0 L1389.5,2941.0 L1392.5,2945.0 L1395.5,2949.0 L1398.5,2953.0 L1401.5,2957.0 L1404.5,2961.0 L1407.5,2964.9 L1410.5,2968.7 L1413.5,2972.6 L1416.5,2976.3 L1419.5,2980.1 L1422.5,2983.7 L1425.5,2987.3 L1428.5,2990.9 L1431.5,2994.3 L1434.5,2997.7 L1437.5,3001.0 L1440.5,3004.3 L1443.5,3007.4 L1446.5,3010.5 L1449.5,3013.5 L1452.5,3016.4 L1455.5,3019.3 L1458.5,3022.0 L1461.5,3024.7 L1464.5,3027.2 L1467.5,3029.7 L1470.5,3032.1 L1473.5,3034.4 L1476.5,3036.7 L1479.5,3038.8 L1482.5,3040.9 L1485.5,3042.9 L1488.5,3044.8 L1491.5,3046.6 L1494.5,3048.4 L1497.5,3050.0 L1500.5,3051.6 L1503.5,3053.1 L1506.5,3054.6 L1509.5,3056.0 L1512.5,3057.3 L1515.5,3058.5 L1518.5,3059.7 L1521.5,3060.8 L1524.5,3061.9 L1527.5,3062.9 L1530.5,3063.9 L1533.5,3064.8 L1536.5,3065.6 L1539.5,3066.4 L1542.5,3067.2 L1545.5,3067.9 L1548.5,3068.6 L1551.5,3069.2 L1554.5,3069.8 L1557.5,3070.3 L1560.5,3070.8 L1563.5,3071.3 L1566.5,3071.8 L1569.5,3072.2 L1572.5,3072.6 L1575.5,3072.9 L1578.5,3073.3 L1581.5,3073.6 L1584.5,3073.9 L1587.5,3074.1 L1590.5,3074.4 L1593.5,3074.6 L1596.5,3074.8 L1599.5,3075.0 L1602.5,3075.2 L1605.5,3075.4 L1608.5,3075.5 L1611.5,3075.7 L1614.5,3075.8 L1617.5,3075.9 L1620.5,3076.1 L1623.5,3076.2 L1626.5,3076.3 L1629.5,3076.4 L1632.5,3076.5 L1635.5,3076.6 L1638.5,3076.7 L1641.5,3076.8 L1644.5,3076.9 L1647.5,3077.0 L1650.5,3077.1 L1653.5,3077.2 L1656.5,3077.3 L1659.5,3077.4 L1662.5,3077.5 L1665.5,3077.5 L1668.5,3077.6 L1671.5,3077.7 L1674.5,3077.8 L1677.5,3077.9 L1680.5,3078.0 L1683.5,3078.2 L1686.5,3078.3 L1689.5,3078.4 L1692.5,3078.5 L1695.5,3078.6 L1698.5,3078.7 L1701.5,3078.8 L1704.5,3078.9 L1707.5,3079.1 L1710.5,3079.2 L1713.5,3079.3 L1716.5,3079.4 L1719.5,3079.5 L1722.5,3079.6 L1725.5,3079.7 L1728.5,3079.8 L1731.5,3079.9 L1734.5,3080.0 L1737.5,3080.1 L1740.5,3080.2 L1743.5,3080.3 L1746.5,3080.5 L1749.5,3080.6 L1752.5,3080.7 L1755.5,3080.8 L1758.5,3080.9 L1761.5,3081.0 L1764.5,3081.1 L1767.5,3081.2 L1770.5,3081.3 L1773.5,3081.4 L1776.5,3081.5 L1779.5,3081.6 L1782.5,3081.7 L1785.5,3081.8 L1788.5,3081.9 L1791.5,3082.0 L1794.5,3082.1 L1797.5,3082.2 L1800.5,3082.3 L1803.5,3082.4 L1806.5,3082.5 L1809.5,3082.6 L1812.5,3082.7 L1815.5,3082.8 L1818.5,3082.9 L1821.5,3083.0 L1824.5,3083.0 L1827.5,3083.1 L1830.5,3083.2 L1833.5,3083.2 L1836.5,3083.3 L1839.5,3083.4 L1842.5,3083.4 L1845.5,3083.5 L1848.5,3083.5 L1851.5,3083.5 L1854.5,3083.6 L1857.5,3083.6 L1860.5,3083.6 L1863.5,3083.7 L1866.5,3083.7 L1869.5,3083.7 L1872.5,3083.7 L1875.5,3083.7 L1878.5,3083.7 L1881.5,3083.7 L1884.5,3083.7 L1887.5,3083.7 L1890.5,3083.7 L1893.5,3083.6 L1896.5,3083.6 L1899.5,3083.6 L1902.5,3083.6 L1905.5,3083.6 L1908.5,3083.5 L1911.5,3083.5 L1914.5,3083.5 L1917.5,3083.5 L1920.5,3083.4 L1923.5,3083.4 L1926.5,3083.4 L1929.5,3083.4 L1932.5,3083.4 L1935.5,3083.3 L1938.5,3083.3 L1941.5,3083.3 L1944.5,3083.3 L1947.5,3083.2 L1950.5,3083.2 L1953.5,3083.2 L1956.5,3083.2 L1959.5,3083.2 L1962.5,3083.1 L1965.5,3083.1 L1968.5,3083.1 L1971.5,3083.1 L1974.5,3083.0 L1977.5,3083.0 L1980.5,3083.0 L1983.5,3083.0 L1986.5,3082.9 L1989.5,3082.9 L1992.5,3082.9 L1995.5,3082.9 L1998.5,3082.9 L2001.5,3082.8 L2004.5,3082.8 L2007.5,3082.8 L2010.5,3082.8 L2013.5,3082.7 L2016.5,3082.7 L2019.5,3082.7 L2022.5,3082.7 L2025.5,3082.6 L2028.5,3082.6 L2031.5,3082.6 L2034.5,3082.6 L2037.5,3082.5 L2040.5,3082.5 L2043.5,3082.5 L2046.5,3082.5 L2049.5,3082.4 L2052.5,3082.4 L2055.5,3082.4 L2058.5,3082.4 L2061.5,3082.4 L2064.5,3082.3 L2067.5,3082.3 L2070.5,3082.3 L2073.5,3082.3 L2076.5,3082.3 L2079.5,3082.3 L2082.5,3082.3 L2085.5,3082.2 L2088.5,3082.2" fill="none" stroke="#fc0a0a" stroke-width="7.5" stroke-linejoin="round"/>
<path d="M141.5,3353.2 L144.5,3353.2 L147.5,3353.2 L150.5,3353.2 L153.5,3353.2 L156.5,3353.1 L159.5,3353.1 L162.5,3353.1 L165.5,3353.1 L168.5,3353.0 L171.5,3353.0 L174.5,3353.0 L177.5,3352.9 L180.5,3352.9 L183.5,3352.9 L186.5,3352.9 L189.5,3352.8 L192.5,3352.8 L195.5,3352.8 L198.5,3352.7 L201.5,3352.7 L204.5,3352.7 L207.5,3352.6 L210.5,3352.6 L213.5,3352.6 L216.5,3352.5 L219.5,3352.5 L222.5,3352.5 L225.5,3352.4 L228.5,3352.4 L231.5,3352.4 L234.5,3352.3 L237.5,3352.3 L240.5,3352.2 L243.5,3352.2 L246.5,3352.2 L249.5,3352.1 L252.5,3352.1 L255.5,3352.1 L258.5,3352.0 L261.5,3352.0 L264.5,3352.0 L267.5,3351.9 L270.5,3351.9 L273.5,3351.9 L276.5,3351.8 L279.5,3351.8 L282.5,3351.7 L285.5,3351.7 L288.5,3351.7 L291.5,3351.6 L294.5,3351.6 L297.5,3351.5 L300.5,3351.5 L303.5,3351.5 L306.5,3351.4 L309.5,3351.4 L312.5,3351.3 L315.5,3351.3 L318.5,3351.3 L321.5,3351.2 L324.5,3351.2 L327.5,3351.1 L330.5,3351.1 L333.5,3351.1 L336.5,3351.0 L339.5,3351.0 L342.5,3350.9 L345.5,3350.9 L348.5,3350.8 L351.5,3350.8 L354.5,3350.7 L357.5,3350.7 L360.5,3350.7 L363.5,3350.6 L366.5,3350.6 L369.5,3350.5 L372.5,3350.5 L375.5,3350.4 L378.5,3350.4 L381.5,3350.3 L384.5,3350.3 L387.5,3350.2 L390.5,3350.2 L393.5,3350.1 L396.5,3350.1 L399.5,3350.0 L402.5,3350.0 L405.5,3349.9 L408.5,3349.9 L411.5,3349.8 L414.5,3349.7 L417.5,3349.7 L420.5,3349.6 L423.5,3349.6 L426.5,3349.5 L429.5,3349.5 L432.5,3349.4 L435.5,3349.3 L438.5,3349.3 L441.5,3349.2 L444.5,3349.2 L447.5,3349.1 L450.5,3349.0 L453.5,3349.0 L456.5,3348.9 L459.5,3348.8 L462.5,3348.8 L465.5,3348.7 L468.5,3348.6 L471.5,3348.5 L474.5,3348.5 L477.5,3348.4 L480.5,3348.3 L483.5,3348.2 L486.5,3348.2 L489.5,3348.1 L492.5,3348.0 L495.5,3347.9 L498.5,3347.8 L501.5,3347.7 L504.5,3347.6 L507.5,3347.5 L510.5,3347.4 L513.5,3347.3 L516.5,3347.2 L519.5,3347.1 L522.5,3347.0 L525.5,3346.9 L528.5,3346.8 L531.5,3346.7 L534.5,3346.5 L537.5,3346.4 L540.5,3346.2 L543.5,3346.1 L546.5,3345.9 L549.5,3345.8 L552.5,3345.6 L555.5,3345.4 L558.5,3345.3 L561.5,3345.1 L564.5,3344.9 L567.5,3344.7 L570.5,3344.4 L573.5,3344.2 L576.5,3344.0 L579.5,3343.7 L582.5,3343.4 L585.5,3343.2 L588.5,3342.9 L591.5,3342.6 L594.5,3342.2 L597.5,3341.9 L600.5,3341.5 L603.5,3341.2 L606.5,3340.8 L609.5,3340.4 L612.5,3339.9 L615.5,3339.5 L618.5,3339.0 L621.5,3338.5 L624.5,3338.0 L627.5,3337.4 L630.5,3336.8 L633.5,3336.2 L636.5,3335.6 L639.5,3334.9 L642.5,3334.2 L645.5,3333.4 L648.5,3332.7 L651.5,3331.9 L654.5,3331.0 L657.5,3330.1 L660.5,3329.2 L663.5,3328.2 L666.5,3327.2 L669.5,3326.2 L672.5,3325.1 L675.5,3324.0 L678.5,3322.8 L681.5,3321.5 L684.5,3320.2 L687.5,3318.9 L690.5,3317.5 L693.5,3316.1 L696.5,3314.6 L699.5,3313.0 L702.5,3311.4 L705.5,3309.7 L708.5,3308.0 L711.5,3306.2 L714.5,3304.4 L717.5,3302.5 L720.5,3300.5 L723.5,3298.5 L726.5,3296.4 L729.5,3294.3 L732.5,3292.1 L735.5,3289.8 L738.5,3287.5 L741.5,3285.2 L744.5,3282.7 L747.5,3280.2 L750.5,3277.7 L753.5,3275.1 L756.5,3272.4 L759.5,3269.7 L762.5,3266.9 L765.5,3264.1 L768.5,3261.2 L771.5,3258.3 L774.5,3255.4 L777.5,3252.4 L780.5,3249.4 L783.5,3246.3 L786.5,3243.2 L789.5,3240.0 L792.5,3236.9 L795.5,3233.7 L798.5,3230.5 L801.5,3227.2 L804.5,3224.0 L807.5,3220.8 L810.5,3217.5 L813.5,3214.3 L816.5,3211.0 L819.5,3207.8 L822.5,3204.6 L825.5,3201.3 L828.5,3198.2 L831.5,3195.0 L834.5,3191.9 L837.5,3188.8 L840.5,3185.8 L843.5,3182.8 L846.5,3179.9 L849.5,3177.1 L852.5,3174.3 L855.5,3171.6 L858.5,3169.0 L861.5,3166.4 L864.5,3164.0 L867.5,3161.6 L870.5,3159.4 L873.5,3157.3 L876.5,3155.3 L879.5,3153.4 L882.5,3151.6 L885.5,3150.0 L888.5,3148.5 L891.5,3147.2 L894.5,3146.0 L897.5,3144.9 L900.5,3144.0 L903.5,3143.3 L906.5,3142.7 L909.5,3142.3 L912.5,3142.0 L915.5,3141.9 L918.5,3141.9 L921.5,3142.2 L924.5,3142.6 L927.5,3143.2 L930.5,3143.9 L933.5,3144.9 L936.5,3146.0 L939.5,3147.2 L942.5,3148.7 L945.5,3150.2 L948.5,3152.0 L951.5,3153.8 L954.5,3155.8 L957.5,3157.9 L960.5,3160.1 L963.5,3162.5 L966.5,3164.9 L969.5,3167.4 L972.5,3170.0 L975.5,3172.7 L978.5,3175.5 L981.5,3178.3 L984.5,3181.1 L987.5,3184.0 L990.5,3187.0 L993.5,3189.9 L996.5,3192.9 L999.5,3195.9 L1002.5,3198.9 L1005.5,3201.8 L1008.5,3204.8 L1011.5,3207.7 L1014.5,3210.7 L1017.5,3213.5 L1020.5,3216.4 L1023.5,3219.2 L1026.5,3221.9 L1029.5,3224.6 L1032.5,3227.2 L1035.5,3229.7 L1038.5,3232.2 L1041.5,3234.5 L1044.5,3236.8 L1047.5,3239.0 L1050.5,3241.1 L1053.5,3243.1 L1056.5,3245.0 L1059.5,3246.8 L1062.5,3248.5 L1065.5,3250.1 L1068.5,3251.6 L1071.5,3253.0 L1074.5,3254.2 L1077.5,3255.4 L1080.5,3256.4 L1083.5,3257.4 L1086.5,3258.2 L1089.5,3258.9 L1092.5,3259.5 L1095.5,3260.0 L1098.5,3260.4 L1101.5,3260.7 L1104.5,3260.8 L1107.5,3260.9 L1110.5,3260.9 L1113.5,3260.8 L1116.5,3260.6 L1119.5,3260.3 L1122.5,3260.0 L1125.5,3259.6 L1128.5,3259.1 L1131.5,3258.5 L1134.5,3257.9 L1137.5,3257.2 L1140.5,3256.4 L1143.5,3255.7 L1146.5,3254.8 L1149.5,3254.0 L1152.5,3253.1 L1155.5,3252.2 L1158.5,3251.3 L1161.5,3250.3 L1164.5,3249.4 L1167.5,3248.4 L1170.5,3247.5 L1173.5,3246.6 L1176.5,3245.6 L1179.5,3244.7 L1182.5,3243.9 L1185.5,3243.0 L1188.5,3242.2 L1191.5,3241.5 L1194.5,3240.8 L1197.5,3240.1 L1200.5,3239.5 L1203.5,3239.0 L1206.5,3238.5 L1209.5,3238.0 L1212.5,3237.7 L1215.5,3237.4 L1218.5,3237.2 L1221.5,3237.1 L1224.5,3237.0 L1227.5,3237.0 L1230.5,3237.1 L1233.5,3237.3 L1236.5,3237.6 L1239.5,3237.9 L1242.5,3238.3 L1245.5,3238.8 L1248.5,3239.4 L1251.5,3240.0 L1254.5,3240.7 L1257.5,3241.5 L1260.5,3242.3 L1263.5,3243.2 L1266.5,3244.2 L1269.5,3245.3 L1272.5,3246.4 L1275.5,3247.5 L1278.5,3248.8 L1281.5,3250.0 L1284.5,3251.4 L1287.5,3252.8 L1290.5,3254.2 L1293.5,3255.7 L1296.5,3257.2 L1299.5,3258.7 L1302.5,3260.3 L1305.5,3261.9 L1308.5,3263.6 L1311.5,3265.3 L1314.5,3267.0 L1317.5,3268.7 L1320.5,3270.4 L1323.5,3272.2 L1326.5,3274.0 L1329.5,3275.7 L1332.5,3277.5 L1335.5,3279.3 L1338.5,3281.1 L1341.5,3282.9 L1344.5,3284.6 L1347.5,3286.4 L1350.5,3288.2 L1353.5,3289.9 L1356.5,3291.6 L1359.5,3293.4 L1362.5,3295.1 L1365.5,3296.7 L1368.5,3298.4 L1371.5,3300.0 L1374.5,3301.6 L1377.5,3303.2 L1380.5,3304.7 L1383.5,3306.3 L1386.5,3307.7 L1389.5,3309.2 L1392.5,3310.6 L1395.5,3312.0 L1398.5,3313.4 L1401.5,3314.7 L1404.5,3316.0 L1407.5,3317.2 L1410.5,3318.4 L1413.5,3319.6 L1416.5,3320.7 L1419.5,3321.8 L1422.5,3322.9 L1425.5,3323.9 L1428.5,3324.9 L1431.5,3325.9 L1434.5,3326.8 L1437.5,3327.7 L1440.5,3328.6 L1443.5,3329.4 L1446.5,3330.2 L1449.5,3330.9 L1452.5,3331.7 L1455.5,3332.4 L1458.5,3333.0 L1461.5,3333.7 L1464.5,3334.3 L1467.5,3334.8 L1470.5,3335.4 L1473.5,3335.9 L1476.5,3336.4 L1479.5,3336.9 L1482.5,3337.3 L1485.5,3337.8 L1488.5,3338.2 L1491.5,3338.6 L1494.5,3338.9 L1497.5,3339.3 L1500.5,3339.6 L1503.5,3339.9 L1506.5,3340.2 L1509.5,3340.5 L1512.5,3340.7 L1515.5,3340.9 L1518.5,3341.2 L1521.5,3341.4 L1524.5,3341.6 L1527.5,3341.8 L1530.5,3341.9 L1533.5,3342.1 L1536.5,3342.3 L1539.5,3342.4 L1542.5,3342.5 L1545.5,3342.7 L1548.5,3342.8 L1551.5,3342.9 L1554.5,3343.0 L1557.5,3343.1 L1560.5,3343.2 L1563.5,3343.2 L1566.5,3343.3 L1569.5,3343.4 L1572.5,3343.4 L1575.5,3343.5 L1578.5,3343.6 L1581.5,3343.6 L1584.5,3343.6 L1587.5,3343.7 L1590.5,3343.7 L1593.5,3343.8 L1596.5,3343.8 L1599.5,3343.8 L1602.5,3343.8 L1605.5,3343.9 L1608.5,3343.9 L1611.5,3343.9 L1614.5,3344.0 L1617.5,3344.0 L1620.5,3344.1 L1623.5,3344.2 L1626.5,3344.3 L1629.5,3344.4 L1632.5,3344.5 L1635.5,3344.7 L1638.5,3344.8 L1641.5,3345.0 L1644.5,3345.1 L1647.5,3345.3 L1650.5,3345.5 L1653.5,3345.7 L1656.5,3345.9 L1659.5,3346.2 L1662.5,3346.4 L1665.5,3346.7 L1668.5,3347.0 L1671.5,3347.2 L1674.5,3347.5 L1677.5,3347.8 L1680.5,3348.0 L1683.5,3348.3 L1686.5,3348.6 L1689.5,3348.8 L1692.5,3349.1 L1695.5,3349.3 L1698.5,3349.6 L1701.5,3349.8 L1704.5,3350.0 L1707.5,3350.2 L1710.5,3350.4 L1713.5,3350.5 L1716.5,3350.7 L1719.5,3350.8 L1722.5,3350.9 L1725.5,3351.0 L1728.5,3351.1 L1731.5,3351.2 L1734.5,3351.3 L1737.5,3351.3 L1740.5,3351.3 L1743.5,3351.3 L1746.5,3351.3 L1749.5,3351.3 L1752.5,3351.3 L1755.5,3351.2 L1758.5,3351.2 L1761.5,3351.1 L1764.5,3351.1 L1767.5,3351.0 L1770.5,3351.0 L1773.5,3350.9 L1776.5,3350.9 L1779.5,3350.8 L1782.5,3350.8 L1785.5,3350.7 L1788.5,3350.7 L1791.5,3350.6 L1794.5,3350.6 L1797.5,3350.5 L1800.5,3350.5 L1803.5,3350.4 L1806.5,3350.4 L1809.5,3350.4 L1812.5,3350.3 L1815.5,3350.3 L1818.5,3350.3 L1821.5,3350.3 L1824.5,3350.2 L1827.5,3350.2 L1830.5,3350.2 L1833.5,3350.1 L1836.5,3350.1 L1839.5,3350.1 L1842.5,3350.1 L1845.5,3350.0 L1848.5,3350.0 L1851.5,3350.0 L1854.5,3350.0 L1857.5,3349.9 L1860.5,3349.9 L1863.5,3349.9 L1866.5,3349.9 L1869.5,3349.9 L1872.5,3349.8 L1875.5,3349.8 L1878.5,3349.8 L1881.5,3349.8 L1884.5,3349.8 L1887.5,3349.7 L1890.5,3349.7 L1893.5,3349.7 L1896.5,3349.6 L1899.5,3349.6 L1902.5,3349.6 L1905.5,3349.5 L1908.5,3349.5 L1911.5,3349.5 L1914.5,3349.4 L1917.5,3349.4 L1920.5,3349.4 L1923.5,3349.4 L1926.5,3349.3 L1929.5,3349.3 L1932.5,3349.3 L1935.5,3349.2 L1938.5,3349.2 L1941.5,3349.2 L1944.5,3349.1 L1947.5,3349.1 L1950.5,3349.1 L1953.5,3349.0 L1956.5,3349.0 L1959.5,3349.0 L1962.5,3348.9 L1965.5,3348.9 L1968.5,3348.9 L1971.5,3348.8 L1974.5,3348.8 L1977.5,3348.8 L1980.5,3348.7 L1983.5,3348.7 L1986.5,3348.7 L1989.5,3348.6 L1992.5,3348.6 L1995.5,3348.6 L1998.5,3348.5 L2001.5,3348.5 L2004.5,3348.5 L2007.5,3348.4 L2010.5,3348.4 L2013.5,3348.4 L2016.5,3348.3 L2019.5,3348.3 L2022.5,3348.3 L2025.5,3348.2 L2028.5,3348.2 L2031.5,3348.1 L2034.5,3348.1 L2037.5,3348.1 L2040.5,3348.0 L2043.5,3348.0 L2046.5,3348.0 L2049.5,3347.9 L2052.5,3347.9 L2055.5,3347.9 L2058.5,3347.9 L2061.5,3347.8 L2064.5,3347.8 L2067.5,3347.8 L2070.5,3347.8 L2073.5,3347.7 L2076.5,3347.7 L2079.5,3347.7 L2082.5,3347.7 L2085.5,3347.6 L2088.5,3347.6" fill="none" stroke="#080808" stroke-width="7.5" stroke-linejoin="round"/>
<text transform="translate(141.5,3506.3) scale(1.065,1)" font-size="64.5" text-anchor="middle" fill="#080808">158</text>
<text transform="translate(420.0,3506.3) scale(1.065,1)" font-size="64.5" text-anchor="middle" fill="#080808">159</text>
<text transform="translate(698.6,3506.3) scale(1.065,1)" font-size="64.5" text-anchor="middle" fill="#080808">160</text>
<text transform="translate(977.1,3506.3) scale(1.065,1)" font-size="64.5" text-anchor="middle" fill="#080808">161</text>
<text transform="translate(1255.6,3506.3) scale(1.065,1)" font-size="64.5" text-anchor="middle" fill="#080808">162</text>
<text transform="translate(1534.1,3506.3) scale(1.065,1)" font-size="64.5" text-anchor="middle" fill="#080808">163</text>
<text transform="translate(1812.7,3506.3) scale(1.065,1)" font-size="64.5" text-anchor="middle" fill="#080808">164</text>
<text transform="translate(2091.2,3506.3) scale(1.065,1)" font-size="64.5" text-anchor="middle" fill="#080808">165</text>
<path d="M141.5,3401.8v32.5 M280.8,3401.8v17.5 M420.0,3401.8v32.5 M559.3,3401.8v17.5 M698.6,3401.8v32.5 M837.8,3401.8v17.5 M977.1,3401.8v32.5 M1116.3,3401.8v17.5 M1255.6,3401.8v32.5 M1394.9,3401.8v17.5 M1534.1,3401.8v32.5 M1673.4,3401.8v17.5 M1812.7,3401.8v32.5 M1951.9,3401.8v17.5 M2091.2,3401.8v32.5" stroke="#080808" stroke-width="7.2" fill="none"/>
<path d="M137.45,1831.3H2095.25M137.45,3401.8H2095.25" stroke="#080808" stroke-width="7.6" fill="none"/>
<path d="M141.5,1831.3V3401.8M2091.2,1831.3V3401.8" stroke="#080808" stroke-width="8.1" fill="none"/>
<text transform="translate(848.9,3589.8) scale(1.065,1)" font-size="79.1" fill="#080808">B.E. (eV)</text>
<text transform="translate(103.0,2903.2) scale(1.065,1) rotate(-90)" font-size="83.5" fill="#080808">Intensity (c/s)</text>
<text transform="translate(154.4,1911.3) scale(1.065,1)" font-size="78.5" fill="#080808">S-2p</text>
<text transform="translate(679.6,1943.6) scale(1.065,1)" font-size="65.7" fill="#8a10f2">S 2p<tspan font-size="46.3" dx="0.8" dy="28.6">3/2</tspan></text>
<text transform="translate(1078.5,1908.6) scale(1.065,1)" font-size="65.8" fill="#0b7a7a">161.15 eV</text>
<text transform="translate(1801.3,1938.2) scale(1.065,1)" font-size="101.4" fill="#fc0a0a">(b)</text>
<text transform="translate(1359.6,1989.4) scale(1.065,1)" font-size="67.1" fill="#8a10f2">S 2p<tspan font-size="45.5" dx="-1.1" dy="27.0">1/2</tspan></text>
<text transform="translate(1439.7,2105.3) scale(1.065,1)" font-size="65.8" fill="#0b7a7a">162.32 eV</text>
<text transform="translate(1893.3,2240.0) scale(1.065,1)" font-size="66.4" fill="#ff0cf4">C-48</text>
<text transform="translate(930.5,2298.6) scale(1.065,1)" font-size="65.8" fill="#0808f8">161.45 eV</text>
<text transform="translate(1364.2,2406.7) scale(1.065,1)" font-size="65.8" fill="#0808f8">162.59 eV</text>
<text transform="translate(1893.9,2533.0) scale(1.065,1)" font-size="66.4" fill="#0808f8">C-24</text>
<text transform="translate(599.5,2664.1) scale(1.065,1)" font-size="65.8" fill="#fc0a0a">160.96 eV</text>
<text transform="translate(1301.7,2823.4) scale(1.065,1)" font-size="65.8" fill="#fc0a0a">162.11 eV</text>
<text transform="translate(1903.7,3037.5) scale(1.065,1)" font-size="66.4" fill="#fc0a0a">C-18</text>
<text transform="translate(557.4,3151.1) scale(1.065,1)" font-size="65.8" fill="#080808">160.78 eV</text>
<text transform="translate(1261.9,3210.0) scale(1.065,1)" font-size="65.8" fill="#080808">161.94 eV</text>
<text transform="translate(1906.0,3302.3) scale(1.065,1)" font-size="66.4" fill="#080808">C-6</text>
</g></svg>
</body></html>
